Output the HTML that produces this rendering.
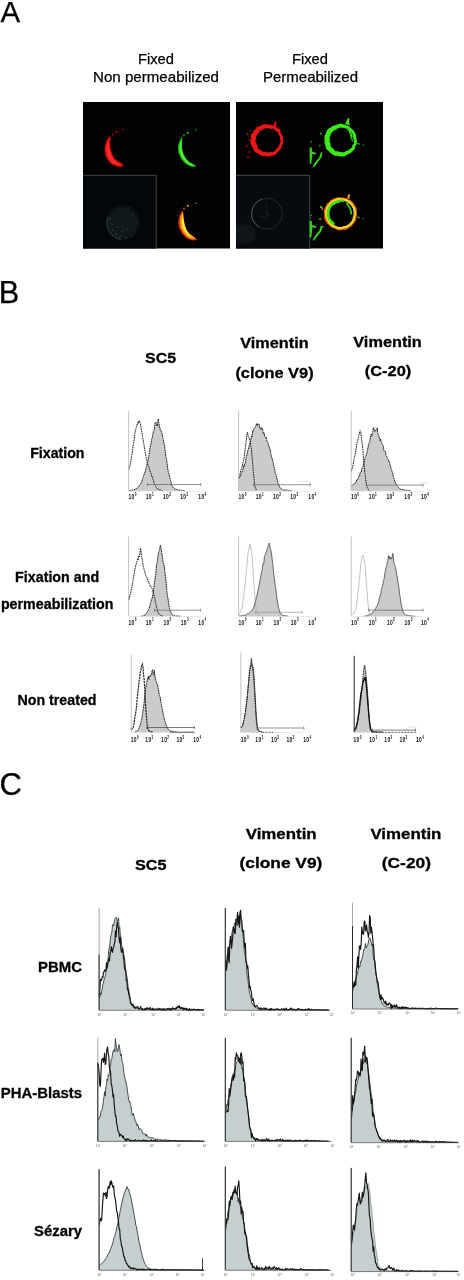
<!DOCTYPE html>
<html><head><meta charset="utf-8"><title>Figure</title>
<style>
html,body{margin:0;padding:0;background:#fff;}
body{width:464px;height:1280px;overflow:hidden;position:relative;font-family:"Liberation Sans",Arial,sans-serif;}
svg{position:absolute;left:0;top:0;display:block}
</style></head><body>
<svg width="464" height="1280" viewBox="0 0 464 1280">
<g font-family="Liberation Sans, Arial, sans-serif">
<text x="0.6" y="21.5" font-size="30" stroke="#000" stroke-width="0.25" textLength="19.6" lengthAdjust="spacingAndGlyphs">A</text>
<text x="-1.3" y="303.0" font-size="30.7" stroke="#000" stroke-width="0.25">B</text>
<text x="-0.5" y="794.5" font-size="31" stroke="#000" stroke-width="0.25">C</text>
<text x="138.0" y="64.2" font-size="15" stroke="#000" stroke-width="0.25" textLength="36.0" lengthAdjust="spacingAndGlyphs">Fixed</text>
<text x="93.0" y="82.2" font-size="15" stroke="#000" stroke-width="0.25" textLength="126.0" lengthAdjust="spacingAndGlyphs">Non permeabilized</text>
<text x="292.0" y="64.2" font-size="15" stroke="#000" stroke-width="0.25" textLength="36.0" lengthAdjust="spacingAndGlyphs">Fixed</text>
<text x="263.0" y="82.2" font-size="15" stroke="#000" stroke-width="0.25" textLength="95.0" lengthAdjust="spacingAndGlyphs">Permeabilized</text>
<text x="145.0" y="362.5" font-size="15.5" font-weight="bold" stroke="#000" stroke-width="0.3" textLength="31.0" lengthAdjust="spacingAndGlyphs">SC5</text>
<text x="240.3" y="348.0" font-size="15.5" font-weight="bold" stroke="#000" stroke-width="0.3" textLength="68.3" lengthAdjust="spacingAndGlyphs">Vimentin</text>
<text x="235.4" y="377.8" font-size="15.5" font-weight="bold" stroke="#000" stroke-width="0.3" textLength="78.2" lengthAdjust="spacingAndGlyphs">(clone V9)</text>
<text x="353.3" y="347.0" font-size="15.5" font-weight="bold" stroke="#000" stroke-width="0.3" textLength="68.5" lengthAdjust="spacingAndGlyphs">Vimentin</text>
<text x="364.7" y="375.8" font-size="15.5" font-weight="bold" stroke="#000" stroke-width="0.3" textLength="46.6" lengthAdjust="spacingAndGlyphs">(C-20)</text>
<text x="30.2" y="457.8" font-size="15" font-weight="bold" stroke="#000" stroke-width="0.3" textLength="54.3" lengthAdjust="spacingAndGlyphs">Fixation</text>
<text x="15.1" y="581.8" font-size="15" font-weight="bold" stroke="#000" stroke-width="0.3" textLength="84.0" lengthAdjust="spacingAndGlyphs">Fixation and</text>
<text x="0.9" y="608.6" font-size="15" font-weight="bold" stroke="#000" stroke-width="0.3" textLength="112.6" lengthAdjust="spacingAndGlyphs">permeabilization</text>
<text x="17.5" y="705.2" font-size="15" font-weight="bold" stroke="#000" stroke-width="0.3" textLength="79.0" lengthAdjust="spacingAndGlyphs">Non treated</text>
</g>
<defs><filter id="b1" x="-30%" y="-30%" width="160%" height="160%"><feGaussianBlur stdDeviation="0.7"/></filter><filter id="b2" x="-30%" y="-30%" width="160%" height="160%"><feGaussianBlur stdDeviation="1.6"/></filter><filter id="b0" x="-30%" y="-30%" width="160%" height="160%"><feGaussianBlur stdDeviation="0.45"/></filter><radialGradient id="cellg" cx="0.45" cy="0.5" r="0.5"><stop offset="0" stop-color="#131c20" stop-opacity="0.9"/><stop offset="0.75" stop-color="#121b1f" stop-opacity="0.8"/><stop offset="1" stop-color="#0a1013" stop-opacity="0"/></radialGradient><clipPath id="cpR"><rect x="236" y="176" width="73" height="72.5"/></clipPath></defs>
<rect x="83" y="102" width="147" height="146.5" fill="#020202"/>
<rect x="83" y="175" width="73" height="73.5" fill="#04070a"/>
<path d="M83 175.3H156.2V248.5" fill="none" stroke="#46514f" stroke-width="0.9"/>
<rect x="236" y="102" width="147" height="146.5" fill="#020202"/>
<rect x="236" y="175" width="74" height="73.5" fill="#070b0f"/>
<path d="M236 175.3H309.8V248.5" fill="none" stroke="#4c5656" stroke-width="0.9"/>
<g filter="url(#b1)"><polygon points="109.9,135.9 107.1,139.6 105.1,145.0 104.5,150.3 105.6,155.7 107.7,160.0 110.9,163.7 115.3,165.9 120.6,167.2 123.7,166.1 121.7,163.3 117.4,161.1 114.2,157.9 112.0,153.6 110.5,148.2 110.1,142.8 110.7,138.5" fill="#d60e0e"/><polygon points="108.8,140.0 106.6,145.6 106.2,150.8 107.3,155.7 109.7,160.0 113.1,163.3 117.8,165.0 120.9,165.0 117.0,162.4 113.1,159.0 110.9,154.2 109.2,148.2 108.8,142.8" fill="#ff2a2a"/><circle cx="122.8" cy="129.6" r="0.9" fill="#a01010"/><circle cx="116.5" cy="132" r="1.1" fill="#c01010"/><circle cx="113" cy="134.5" r="1" fill="#b01010"/></g>
<g filter="url(#b1)"><polygon points="182.3,135.9 179.7,140.6 178.0,146.0 178.4,152.5 181.2,159.0 185.6,163.7 190.9,166.7 196.6,166.7 193.5,164.1 189.2,162.0 185.8,158.1 183.2,153.4 181.9,147.1 182.1,141.7" fill="#1fb814"/><polygon points="181.2,140.0 179.3,146.0 179.7,152.1 182.3,158.1 186.2,162.8 191.4,165.4 194.2,165.4 189.7,162.8 185.8,159.4 183.2,154.2 181.5,147.8 181.5,142.6" fill="#4cf530"/><circle cx="195.7" cy="129.9" r="0.8" fill="#1a9a14"/><circle cx="187.8" cy="133" r="1.1" fill="#22c018"/><circle cx="184" cy="135.3" r="0.9" fill="#22c018"/></g>
<g filter="url(#b1)"><polygon points="182.3,210.2 179.7,215.0 178.2,221.4 178.9,227.2 181.7,233.3 186.4,238.2 192.0,240.6 197.2,240.0 194.4,237.2 190.1,234.6 186.9,230.3 184.7,224.7 183.6,218.2 183.6,213.0" fill="#d82c10"/><polygon points="182.5,211.7 180.6,216.5 179.7,222.1 180.6,227.2 183.2,232.8 187.5,237.2 192.2,239.3 195.7,238.9 193.1,236.3 189.2,233.7 186.2,229.8 184.3,224.7 183.2,218.6 183.2,213.9" fill="#ee9a18"/><polygon points="182.8,214.3 181.7,219.3 181.9,224.7 184.1,230.7 187.9,235.4 192.2,237.8 189.7,234.6 186.6,230.3 184.7,225.1 183.6,219.5" fill="#ffe838"/><circle cx="195.9" cy="203.2" r="0.8" fill="#b08018"/><circle cx="187.8" cy="205.8" r="1.1" fill="#d0901a"/><circle cx="184" cy="208.5" r="0.9" fill="#d06a18"/></g>
<circle cx="124.5" cy="222.5" r="19" fill="url(#cellg)"/>
<g filter="url(#b0)" fill="#2c3a3e"><circle cx="110" cy="219" r="0.9"/><circle cx="112" cy="224" r="1"/><circle cx="113" cy="230" r="0.9"/><circle cx="116" cy="234" r="1"/><circle cx="120" cy="237" r="0.9"/><circle cx="126" cy="238" r="1"/><circle cx="131" cy="236" r="0.8"/><circle cx="118" cy="227" r="0.8"/><circle cx="122" cy="231" r="0.8"/><circle cx="127" cy="229" r="0.7"/><circle cx="133" cy="215" r="0.7"/><circle cx="137" cy="222" r="0.7"/><circle cx="129" cy="208" r="0.7"/></g>
<path d="M108.1 216.5A17.5 17.5 0 0 0 121.5 239.7" stroke="#222e32" stroke-width="1.6" fill="none" filter="url(#b0)"/>
<g filter="url(#b0)"><path d="M283.1 140.3 L283.3 142.5 L282.6 144.5 L281.6 146.4 L281.0 148.5 L279.5 149.9 L278.1 151.5 L276.9 153.3 L275.2 154.7 L273.2 155.4 L271.0 155.7 L269.0 156.4 L266.9 156.2 L264.8 155.9 L262.7 155.9 L260.7 155.3 L258.8 154.3 L257.1 153.1 L255.1 152.1 L253.8 150.3 L253.0 148.3 L252.1 146.4 L251.0 144.6 L250.5 142.5 L250.3 140.3 L251.3 138.2 L250.9 136.0 L251.5 133.9 L253.2 132.4 L253.8 130.3 L255.7 129.1 L256.8 127.1 L259.0 126.6 L260.8 125.7 L262.6 124.4 L264.8 124.2 L266.9 124.4 L269.0 124.6 L271.0 125.0 L273.0 125.6 L275.2 125.9 L276.7 127.6 L278.2 129.0 L280.0 130.2 L280.6 132.4 L281.6 134.2 L282.8 136.0 L282.8 138.2Z M280.4 140.3 L280.6 142.1 L280.0 143.8 L279.0 145.3 L278.7 147.1 L277.0 148.1 L276.1 149.5 L274.8 150.6 L273.7 152.1 L271.9 152.3 L270.0 151.9 L268.5 152.4 L266.9 152.2 L265.4 151.9 L263.8 152.0 L262.3 151.3 L261.0 150.5 L260.0 149.4 L258.3 148.9 L257.6 147.5 L257.4 145.8 L257.0 144.4 L256.0 143.2 L255.6 141.8 L255.2 140.3 L256.5 138.9 L255.8 137.3 L256.2 135.9 L257.4 134.8 L257.8 133.3 L259.1 132.5 L259.5 130.7 L261.3 130.6 L262.6 129.9 L263.8 128.6 L265.3 128.2 L266.9 128.2 L268.5 128.2 L270.1 128.5 L271.6 128.9 L273.6 128.6 L274.9 129.9 L276.0 131.2 L277.7 132.0 L278.4 133.7 L278.9 135.3 L280.0 136.8 L279.9 138.6Z" fill="#f01616" fill-rule="evenodd"/><path d="M273.5 125.5l1.6-4.2 1.4 0.6-0.4 4.6zM277 126.5l3.6 3.4-1.2 1z" fill="#e81414"/></g>
<g filter="url(#b1)" fill="#b81010"><circle cx="247.5" cy="134" r="1"/><circle cx="249" cy="140" r="0.8"/><circle cx="246.5" cy="146" r="1"/><circle cx="249.5" cy="152" r="1"/><circle cx="248" cy="157" r="0.9"/><circle cx="251" cy="131" r="0.8"/><circle cx="245" cy="162" r="0.7" opacity="0.6"/><circle cx="240" cy="142" r="0.7" opacity="0.5"/><circle cx="243" cy="151" r="0.6" opacity="0.5"/></g>
<g filter="url(#b0)" fill="#3bea14"><path d="M356.9 140.2 L356.9 142.4 L356.5 144.5 L355.2 146.3 L355.0 148.5 L353.7 150.3 L352.0 151.7 L350.4 153.2 L348.4 153.9 L346.7 155.1 L344.8 156.2 L342.7 156.6 L340.5 156.6 L338.4 155.9 L336.3 155.7 L334.1 155.7 L332.4 154.2 L330.6 153.2 L329.2 151.5 L327.4 150.2 L326.1 148.5 L325.6 146.4 L325.1 144.3 L324.5 142.3 L324.6 140.2 L324.5 138.1 L324.5 135.9 L325.6 134.0 L326.2 132.0 L327.2 130.0 L328.8 128.5 L330.8 127.6 L332.4 126.2 L334.4 125.5 L336.4 124.7 L338.4 124.3 L340.5 123.5 L342.6 124.2 L344.7 124.4 L346.6 125.5 L348.8 125.9 L350.2 127.6 L351.8 128.9 L353.5 130.2 L354.5 132.1 L355.6 133.9 L356.1 136.0 L356.3 138.1Z M354.1 140.2 L354.2 142.0 L353.8 143.8 L352.3 145.1 L352.3 147.0 L351.0 148.2 L349.5 149.2 L348.3 150.4 L346.5 150.6 L345.3 151.8 L343.7 152.2 L342.1 152.3 L340.5 152.1 L339.0 151.7 L337.6 151.1 L335.8 151.5 L334.7 150.2 L333.5 149.3 L332.6 148.1 L331.3 147.2 L330.7 145.9 L330.6 144.3 L330.4 142.9 L329.7 141.6 L329.8 140.2 L329.8 138.8 L329.5 137.3 L330.3 136.0 L330.8 134.6 L331.3 133.2 L332.1 131.8 L333.6 131.2 L334.7 130.1 L336.2 129.8 L337.4 128.6 L338.9 128.2 L340.5 127.2 L342.1 128.0 L343.8 127.8 L345.3 128.6 L347.2 128.6 L348.3 130.0 L349.5 131.2 L351.3 131.9 L352.1 133.5 L352.8 135.1 L353.1 136.8 L353.2 138.5Z" fill-rule="evenodd"/><path d="M345 124l3-6 1.6 0.4-0.8 4.4 1.6 2.6z"/><path d="M347.5 126.5q4 4 5.2 10.5l-1.4 0.4q-2-6-5-9.600z" fill="#34d814"/><path d="M349 131l3 6.500 1.500 4-1 0.500-2-3.500z" fill="#30c812" opacity="0.8"/><path d="M357.400 143l2.400 0.800-0.300 0.900-2.400-0.700zM362.800 144.600h1.200v0.800h-1.200z"/></g>
<g filter="url(#b0)" fill="#34d414"><path d="M309.6 147.6h2.2l0.4 8.500-1 8h-1.400z" /><path d="M312 151.6l4.2 1.4-0.4 1.6-4-0.8z"/><path d="M322.6 152.6l-1.2 5-4 5.2-3.6 4.6-1.2-0.8 3-4.8 3.8-4.6 1.4-4.8z"/><circle cx="320.8" cy="133.6" r="0.9"/><circle cx="311.2" cy="141.8" r="0.7"/><circle cx="319.8" cy="145.6" r="0.8"/></g>
<g filter="url(#b0)"><path d="M356.8 213.6 L357.1 215.8 L356.3 217.8 L356.1 220.1 L354.9 221.9 L353.3 223.4 L352.3 225.4 L350.8 227.0 L348.7 227.8 L347.0 229.4 L344.9 230.0 L342.6 229.6 L340.5 230.2 L338.3 230.5 L336.3 229.3 L334.3 228.6 L332.2 227.9 L330.5 226.7 L329.0 225.1 L327.1 223.9 L325.9 222.0 L324.8 220.1 L324.2 218.0 L324.0 215.8 L324.2 213.6 L323.8 211.4 L324.1 209.2 L325.2 207.3 L326.2 205.3 L327.0 203.2 L329.1 202.2 L330.3 200.3 L332.2 199.2 L334.1 198.2 L336.3 197.8 L338.3 197.1 L340.5 197.3 L342.6 197.3 L344.8 197.7 L346.8 198.4 L348.6 199.6 L350.8 200.2 L352.4 201.7 L354.0 203.3 L354.8 205.3 L356.2 207.1 L356.9 209.2 L356.8 211.4Z M354.6 213.6 L354.8 215.5 L354.2 217.3 L353.9 219.2 L352.7 220.6 L351.4 221.9 L350.4 223.5 L349.2 224.9 L347.3 225.3 L346.1 227.1 L344.2 227.4 L342.2 226.8 L340.5 227.2 L338.7 227.6 L337.0 226.7 L335.3 226.1 L333.7 225.3 L332.4 224.2 L331.4 222.7 L329.7 221.9 L328.8 220.3 L327.6 218.9 L327.3 217.1 L327.1 215.4 L327.6 213.6 L327.2 211.8 L327.1 210.0 L328.3 208.6 L329.0 207.0 L329.6 205.2 L331.4 204.5 L332.0 202.5 L333.7 201.9 L335.2 200.9 L337.0 200.6 L338.7 199.9 L340.5 200.3 L342.3 199.8 L344.1 200.2 L345.7 201.0 L347.4 201.6 L349.2 202.3 L350.7 203.4 L352.2 204.6 L353.0 206.4 L354.1 208.0 L354.6 209.8 L354.4 211.8Z" fill="#e4481a" fill-rule="evenodd"/><path d="M356.4 213.6 L355.7 215.6 L355.4 217.6 L355.0 219.6 L354.2 221.5 L353.1 223.3 L351.6 224.7 L350.1 226.1 L348.4 227.2 L346.6 228.2 L344.5 228.6 L342.6 229.3 L340.5 229.5 L338.4 229.3 L336.4 228.8 L334.6 227.9 L332.8 227.0 L330.8 226.2 L329.6 224.5 L328.0 223.2 L327.2 221.3 L326.3 219.5 L325.4 217.6 L325.1 215.6 L324.7 213.6 L325.1 211.6 L325.5 209.6 L326.1 207.6 L326.9 205.7 L328.3 204.3 L329.5 202.6 L331.0 201.3 L332.6 199.9 L334.6 199.2 L336.4 198.3 L338.5 198.1 L340.5 198.1 L342.5 198.3 L344.5 198.5 L346.5 199.1 L348.4 200.0 L350.0 201.3 L351.7 202.4 L353.0 204.0 L354.0 205.8 L355.2 207.5 L355.6 209.6 L356.1 211.6Z M353.7 213.6 L353.4 215.3 L352.8 216.9 L352.6 218.6 L352.0 220.2 L351.1 221.7 L349.9 223.0 L348.6 224.2 L347.0 224.9 L345.6 225.9 L343.8 226.0 L342.2 226.8 L340.5 227.1 L338.8 226.9 L337.1 226.4 L335.5 225.7 L334.0 224.9 L332.3 224.3 L331.3 222.8 L330.1 221.6 L329.4 220.0 L328.5 218.6 L327.8 217.0 L327.5 215.3 L327.2 213.6 L327.6 211.9 L327.9 210.2 L328.4 208.6 L329.1 207.0 L330.2 205.7 L331.3 204.4 L332.5 203.1 L333.8 202.0 L335.6 201.7 L337.1 200.8 L338.8 200.6 L340.5 200.7 L342.2 201.0 L343.9 200.8 L345.5 201.5 L347.0 202.3 L348.5 203.2 L349.9 204.2 L351.1 205.5 L351.9 207.0 L353.0 208.4 L353.2 210.2 L353.5 211.9Z" fill="#f2d222" fill-rule="evenodd"/><path d="M338.8 201.4A12.3 12.3 0 0 0 333.4 223.7" stroke="#3ce014" stroke-width="2.8" fill="none" stroke-linecap="round"/><path d="M333 204.500q5-4.500 11-3.500" stroke="#3ce014" stroke-width="2" fill="none"/><path d="M346.500 203q4.500 5 5 11.500" stroke="#40d818" stroke-width="1.600" fill="none"/><path d="M347.200 198.500l1.200-4.600 1.600 0.400-0.600 4.800z" fill="#f0a020"/><path d="M321.500 206.500l1.200 3.500M320 218.500l0.800 1.200M322.500 226l0.800 1.400" stroke="#e06018" stroke-width="1.400" fill="none"/><path d="M357.400 216.500l2.400 0.800-0.300 0.900-2.400-0.700zM362.800 218.200h1.200v0.800h-1.200z" fill="#38d014"/></g>
<g filter="url(#b0)" fill="#34d414"><path d="M309.6 221.0h2.2l0.4 8.500-1 8h-1.400z" /><path d="M312 225.0l4.2 1.4-0.4 1.6-4-0.8z"/><path d="M322.6 226.0l-1.2 5-4 5.2-3.6 4.6-1.2-0.8 3-4.8 3.8-4.6 1.4-4.8z"/><circle cx="320.8" cy="207.0" r="0.9"/><circle cx="311.2" cy="215.2" r="0.7"/><circle cx="319.8" cy="219.0" r="0.8"/></g>
<g fill="none" filter="url(#b0)"><circle cx="267" cy="213.8" r="15.4" stroke="#242e32" stroke-width="0.9"/><path d="M261.7 199.3A15.4 15.4 0 0 0 259.3 227.1" stroke="#4a585d" stroke-width="0.9"/><path d="M262 210l8 6M266 204l2 12M258 216l10 2" stroke="#1a2428" stroke-width="0.8"/></g>
<g clip-path="url(#cpR)"><ellipse cx="244" cy="234" rx="12" ry="10" fill="#141d22" opacity="0.7" filter="url(#b2)"/></g>
<polygon points="129.1,490.9 129.1,490.7 129.6,490.6 130.2,490.5 130.7,490.4 131.3,490.2 131.8,490.0 132.4,490.0 132.9,490.1 133.5,489.9 134.0,489.8 134.6,489.6 135.1,489.5 135.7,489.0 136.2,488.3 136.8,488.4 137.3,487.9 137.9,487.5 138.4,486.5 139.0,486.1 139.5,485.7 140.1,484.7 140.6,483.9 141.2,482.7 141.7,481.7 142.3,479.5 142.8,478.3 143.4,476.7 143.9,474.5 144.5,474.2 145.0,471.9 145.6,470.6 146.1,467.6 146.7,465.3 147.2,463.4 147.8,461.3 148.3,459.1 148.9,455.5 149.4,451.7 150.0,447.9 150.5,445.3 151.1,444.1 151.6,439.5 152.2,437.8 152.7,435.6 153.3,431.4 153.8,430.8 154.4,429.9 154.9,423.4 155.5,421.9 156.0,422.7 156.6,423.5 157.1,426.2 157.7,423.1 158.2,419.0 158.8,422.9 159.3,425.8 159.9,428.0 160.4,430.1 161.0,430.6 161.5,432.5 162.1,433.3 162.6,437.4 163.2,438.5 163.7,442.0 164.3,444.6 164.8,448.2 165.4,451.9 165.9,457.2 166.5,458.6 167.0,462.9 167.6,467.7 168.1,471.1 168.7,473.3 169.2,474.8 169.8,477.0 170.3,480.3 170.9,481.8 171.4,483.6 172.0,485.8 172.5,486.6 173.1,487.2 173.6,488.0 174.2,488.6 174.7,489.0 175.3,489.0 175.8,489.2 176.4,489.4 176.9,489.3 177.5,490.0 178.0,490.1 178.6,490.2 179.1,489.9 179.7,490.2 180.2,490.4 180.8,490.2 181.3,490.4 181.9,490.5 182.4,490.4 183.0,490.7 183.5,490.7 184.1,490.7 184.6,490.7 184.7,490.7 184.7,490.9" fill="#cbcbcb" stroke="none"/>
<polyline points="129.1,490.7 129.6,490.6 130.2,490.5 130.7,490.4 131.3,490.2 131.8,490.0 132.4,490.0 132.9,490.1 133.5,489.9 134.0,489.8 134.6,489.6 135.1,489.5 135.7,489.0 136.2,488.3 136.8,488.4 137.3,487.9 137.9,487.5 138.4,486.5 139.0,486.1 139.5,485.7 140.1,484.7 140.6,483.9 141.2,482.7 141.7,481.7 142.3,479.5 142.8,478.3 143.4,476.7 143.9,474.5 144.5,474.2 145.0,471.9 145.6,470.6 146.1,467.6 146.7,465.3 147.2,463.4 147.8,461.3 148.3,459.1 148.9,455.5 149.4,451.7 150.0,447.9 150.5,445.3 151.1,444.1 151.6,439.5 152.2,437.8 152.7,435.6 153.3,431.4 153.8,430.8 154.4,429.9 154.9,423.4 155.5,421.9 156.0,422.7 156.6,423.5 157.1,426.2 157.7,423.1 158.2,419.0 158.8,422.9 159.3,425.8 159.9,428.0 160.4,430.1 161.0,430.6 161.5,432.5 162.1,433.3 162.6,437.4 163.2,438.5 163.7,442.0 164.3,444.6 164.8,448.2 165.4,451.9 165.9,457.2 166.5,458.6 167.0,462.9 167.6,467.7 168.1,471.1 168.7,473.3 169.2,474.8 169.8,477.0 170.3,480.3 170.9,481.8 171.4,483.6 172.0,485.8 172.5,486.6 173.1,487.2 173.6,488.0 174.2,488.6 174.7,489.0 175.3,489.0 175.8,489.2 176.4,489.4 176.9,489.3 177.5,490.0 178.0,490.1 178.6,490.2 179.1,489.9 179.7,490.2 180.2,490.4 180.8,490.2 181.3,490.4 181.9,490.5 182.4,490.4 183.0,490.7 183.5,490.7 184.1,490.7 184.6,490.7 184.7,490.7" fill="none" stroke="#222" stroke-width="1" stroke-dasharray="1.8 0.6"/>
<polyline points="128.8,469.4 129.4,467.8 129.9,465.6 130.5,464.2 131.0,460.2 131.6,456.5 132.1,453.7 132.7,449.1 133.2,444.6 133.8,442.2 134.3,438.9 134.9,433.3 135.4,429.6 136.0,428.6 136.5,426.4 137.1,424.0 137.6,424.6 138.2,421.5 138.7,423.1 139.3,420.7 139.8,421.8 140.4,423.8 140.9,427.3 141.5,430.6 142.0,433.4 142.6,436.5 143.1,439.8 143.7,443.5 144.2,446.1 144.8,449.8 145.3,453.3 145.9,456.1 146.4,458.9 147.0,460.9 147.5,464.0 148.1,465.1 148.6,466.3 149.2,467.9 149.7,469.8 150.3,472.0 150.8,472.9 151.4,474.9 151.9,477.3 152.5,477.0 153.0,479.3 153.6,481.5 154.1,483.1 154.7,484.5 155.2,485.3 155.8,486.6 156.3,487.5 156.9,488.0 157.4,489.0 158.0,489.1 158.5,489.4 159.1,489.7 159.6,489.8 160.2,490.0 160.7,489.8 161.3,490.2 161.8,490.5 162.4,490.5 162.9,490.7 163.1,490.7" fill="none" stroke="#222" stroke-width="1" stroke-dasharray="1.7 0.7"/>
<line x1="128.6" y1="410.8" x2="128.6" y2="490.9" stroke="#b4b4b4" stroke-width="0.8"/>
<line x1="128.6" y1="491.2" x2="201.5" y2="491.2" stroke="#d8d8d8" stroke-width="0.6"/>
<path d="M147.4 484.5H200.8M147.4 483.0v3.0M200.8 483.0v3.0" stroke="#666" stroke-width="0.7" fill="none"/>
<text transform="translate(128.5,499.4) scale(0.64,1)" font-size="7.8" fill="#111" font-weight="bold" letter-spacing="0.5" font-family="Liberation Sans, Arial, sans-serif">10<tspan dy="-3.3" font-size="4.8">0</tspan></text>
<text transform="translate(145.7,499.4) scale(0.64,1)" font-size="7.8" fill="#111" font-weight="bold" letter-spacing="0.5" font-family="Liberation Sans, Arial, sans-serif">10<tspan dy="-3.3" font-size="4.8">1</tspan></text>
<text transform="translate(163.0,499.4) scale(0.64,1)" font-size="7.8" fill="#111" font-weight="bold" letter-spacing="0.5" font-family="Liberation Sans, Arial, sans-serif">10<tspan dy="-3.3" font-size="4.8">2</tspan></text>
<text transform="translate(180.2,499.4) scale(0.64,1)" font-size="7.8" fill="#111" font-weight="bold" letter-spacing="0.5" font-family="Liberation Sans, Arial, sans-serif">10<tspan dy="-3.3" font-size="4.8">3</tspan></text>
<text transform="translate(198.3,499.4) scale(0.64,1)" font-size="7.8" fill="#111" font-weight="bold" letter-spacing="0.5" font-family="Liberation Sans, Arial, sans-serif">10<tspan dy="-3.3" font-size="4.8">4</tspan></text>
<polygon points="238.8,490.9 238.8,478.2 239.4,477.8 239.9,476.8 240.5,476.3 241.0,473.7 241.6,473.2 242.1,471.5 242.7,470.3 243.2,469.0 243.8,465.2 244.3,466.3 244.9,463.2 245.4,462.9 246.0,458.1 246.5,456.2 247.1,454.5 247.6,451.3 248.2,449.5 248.7,447.9 249.3,445.2 249.8,442.7 250.4,441.9 250.9,439.1 251.5,435.9 252.0,437.1 252.6,431.5 253.1,432.0 253.7,429.2 254.2,428.1 254.8,427.8 255.3,426.6 255.9,426.4 256.4,423.7 257.0,423.5 257.5,425.7 258.1,423.8 258.6,424.2 259.2,424.5 259.7,428.1 260.3,428.2 260.8,429.6 261.4,427.6 261.9,429.1 262.5,428.5 263.0,431.8 263.6,434.0 264.1,432.8 264.7,436.6 265.2,437.4 265.8,437.7 266.3,437.4 266.9,441.9 267.4,441.9 268.0,442.8 268.5,445.1 269.1,446.5 269.6,449.1 270.2,449.1 270.7,453.1 271.3,455.6 271.8,457.8 272.4,459.0 272.9,461.1 273.5,464.8 274.0,466.7 274.6,469.1 275.1,472.4 275.7,473.9 276.2,475.2 276.8,478.3 277.3,479.9 277.9,483.2 278.4,484.5 279.0,485.3 279.5,486.6 280.1,487.9 280.6,488.2 281.2,488.8 281.7,488.8 282.3,489.4 282.8,489.7 283.4,490.1 283.9,489.8 284.5,490.1 285.0,489.8 285.6,490.0 286.1,489.9 286.7,490.3 287.2,490.1 287.8,490.3 288.3,490.4 288.9,490.5 289.4,490.5 290.0,490.6 290.5,490.8 291.1,490.7 291.4,490.7 291.4,490.9" fill="#cbcbcb" stroke="none"/>
<polyline points="238.8,478.2 239.4,477.8 239.9,476.8 240.5,476.3 241.0,473.7 241.6,473.2 242.1,471.5 242.7,470.3 243.2,469.0 243.8,465.2 244.3,466.3 244.9,463.2 245.4,462.9 246.0,458.1 246.5,456.2 247.1,454.5 247.6,451.3 248.2,449.5 248.7,447.9 249.3,445.2 249.8,442.7 250.4,441.9 250.9,439.1 251.5,435.9 252.0,437.1 252.6,431.5 253.1,432.0 253.7,429.2 254.2,428.1 254.8,427.8 255.3,426.6 255.9,426.4 256.4,423.7 257.0,423.5 257.5,425.7 258.1,423.8 258.6,424.2 259.2,424.5 259.7,428.1 260.3,428.2 260.8,429.6 261.4,427.6 261.9,429.1 262.5,428.5 263.0,431.8 263.6,434.0 264.1,432.8 264.7,436.6 265.2,437.4 265.8,437.7 266.3,437.4 266.9,441.9 267.4,441.9 268.0,442.8 268.5,445.1 269.1,446.5 269.6,449.1 270.2,449.1 270.7,453.1 271.3,455.6 271.8,457.8 272.4,459.0 272.9,461.1 273.5,464.8 274.0,466.7 274.6,469.1 275.1,472.4 275.7,473.9 276.2,475.2 276.8,478.3 277.3,479.9 277.9,483.2 278.4,484.5 279.0,485.3 279.5,486.6 280.1,487.9 280.6,488.2 281.2,488.8 281.7,488.8 282.3,489.4 282.8,489.7 283.4,490.1 283.9,489.8 284.5,490.1 285.0,489.8 285.6,490.0 286.1,489.9 286.7,490.3 287.2,490.1 287.8,490.3 288.3,490.4 288.9,490.5 289.4,490.5 290.0,490.6 290.5,490.8 291.1,490.7 291.4,490.7" fill="none" stroke="#222" stroke-width="1" stroke-dasharray="1.8 0.6"/>
<polyline points="238.8,477.2 239.4,475.8 239.9,474.4 240.5,472.1 241.0,469.8 241.6,468.2 242.1,467.2 242.7,463.4 243.2,461.2 243.8,459.6 244.3,456.2 244.9,450.7 245.4,446.7 246.0,442.5 246.5,437.5 247.1,433.0 247.6,432.2 248.2,436.8 248.7,437.1 249.3,438.4 249.8,440.4 250.4,442.2 250.9,446.5 251.5,449.5 252.0,456.2 252.6,461.4 253.1,469.3 253.7,475.0 254.2,480.4 254.8,485.5 255.3,487.6 255.9,488.6 256.4,490.3 256.5,490.5" fill="none" stroke="#222" stroke-width="1" stroke-dasharray="1.7 0.7"/>
<line x1="238.6" y1="410.8" x2="238.6" y2="490.9" stroke="#b4b4b4" stroke-width="0.8"/>
<line x1="238.6" y1="491.2" x2="311.5" y2="491.2" stroke="#d8d8d8" stroke-width="0.6"/>
<path d="M253.3 484.7H310.2M253.3 483.2v3.0M310.2 483.2v3.0" stroke="#666" stroke-width="0.7" fill="none"/>
<path d="M301.1 481.5h0.8m1.6 0h0.8m1.6 -0.4h1.2m1.6 0.4h0.8" stroke="#999" stroke-width="0.6" fill="none"/>
<text transform="translate(238.5,499.4) scale(0.64,1)" font-size="7.8" fill="#111" font-weight="bold" letter-spacing="0.5" font-family="Liberation Sans, Arial, sans-serif">10<tspan dy="-3.3" font-size="4.8">0</tspan></text>
<text transform="translate(255.7,499.4) scale(0.64,1)" font-size="7.8" fill="#111" font-weight="bold" letter-spacing="0.5" font-family="Liberation Sans, Arial, sans-serif">10<tspan dy="-3.3" font-size="4.8">1</tspan></text>
<text transform="translate(273.0,499.4) scale(0.64,1)" font-size="7.8" fill="#111" font-weight="bold" letter-spacing="0.5" font-family="Liberation Sans, Arial, sans-serif">10<tspan dy="-3.3" font-size="4.8">2</tspan></text>
<text transform="translate(290.2,499.4) scale(0.64,1)" font-size="7.8" fill="#111" font-weight="bold" letter-spacing="0.5" font-family="Liberation Sans, Arial, sans-serif">10<tspan dy="-3.3" font-size="4.8">3</tspan></text>
<text transform="translate(308.3,499.4) scale(0.64,1)" font-size="7.8" fill="#111" font-weight="bold" letter-spacing="0.5" font-family="Liberation Sans, Arial, sans-serif">10<tspan dy="-3.3" font-size="4.8">4</tspan></text>
<polygon points="351.4,490.9 351.4,486.2 352.0,485.7 352.5,484.8 353.1,484.6 353.6,484.2 354.2,483.8 354.7,483.3 355.3,483.2 355.8,482.3 356.4,481.6 356.9,479.7 357.5,479.9 358.0,479.0 358.6,477.2 359.1,475.9 359.7,475.8 360.2,472.4 360.8,472.3 361.3,472.0 361.9,468.4 362.4,467.8 363.0,466.8 363.5,463.5 364.1,462.1 364.6,460.6 365.2,457.5 365.7,456.4 366.3,454.7 366.8,453.1 367.4,450.3 367.9,448.0 368.5,444.9 369.0,443.1 369.6,441.9 370.1,438.8 370.7,435.6 371.2,434.3 371.8,436.4 372.3,433.5 372.9,432.0 373.4,427.6 374.0,429.9 374.5,429.9 375.1,431.6 375.6,430.6 376.2,429.7 376.7,429.9 377.3,427.9 377.8,433.3 378.4,434.8 378.9,435.4 379.5,438.9 380.0,440.8 380.6,439.0 381.1,440.9 381.7,443.0 382.2,444.3 382.8,445.2 383.3,446.1 383.9,450.5 384.4,451.2 385.0,451.0 385.5,452.2 386.1,455.8 386.6,456.3 387.2,458.0 387.7,458.7 388.3,459.2 388.8,461.7 389.4,461.7 389.9,464.2 390.5,466.3 391.0,468.5 391.6,469.6 392.1,471.9 392.7,474.2 393.2,476.0 393.8,478.1 394.3,479.8 394.9,481.5 395.4,483.1 396.0,483.9 396.5,484.8 397.1,485.9 397.6,486.6 398.2,487.1 398.7,487.6 399.3,488.1 399.8,488.6 400.4,489.0 400.9,488.9 401.5,489.4 402.0,489.6 402.6,489.6 403.1,489.7 403.7,489.9 404.2,489.9 404.8,489.9 405.3,490.2 405.9,490.1 406.4,490.3 407.0,490.2 407.5,490.1 408.1,490.3 408.6,490.6 409.2,490.5 409.7,490.5 410.3,490.6 410.8,490.7 411.1,490.7 411.1,490.9" fill="#cbcbcb" stroke="none"/>
<polyline points="351.4,486.2 352.0,485.7 352.5,484.8 353.1,484.6 353.6,484.2 354.2,483.8 354.7,483.3 355.3,483.2 355.8,482.3 356.4,481.6 356.9,479.7 357.5,479.9 358.0,479.0 358.6,477.2 359.1,475.9 359.7,475.8 360.2,472.4 360.8,472.3 361.3,472.0 361.9,468.4 362.4,467.8 363.0,466.8 363.5,463.5 364.1,462.1 364.6,460.6 365.2,457.5 365.7,456.4 366.3,454.7 366.8,453.1 367.4,450.3 367.9,448.0 368.5,444.9 369.0,443.1 369.6,441.9 370.1,438.8 370.7,435.6 371.2,434.3 371.8,436.4 372.3,433.5 372.9,432.0 373.4,427.6 374.0,429.9 374.5,429.9 375.1,431.6 375.6,430.6 376.2,429.7 376.7,429.9 377.3,427.9 377.8,433.3 378.4,434.8 378.9,435.4 379.5,438.9 380.0,440.8 380.6,439.0 381.1,440.9 381.7,443.0 382.2,444.3 382.8,445.2 383.3,446.1 383.9,450.5 384.4,451.2 385.0,451.0 385.5,452.2 386.1,455.8 386.6,456.3 387.2,458.0 387.7,458.7 388.3,459.2 388.8,461.7 389.4,461.7 389.9,464.2 390.5,466.3 391.0,468.5 391.6,469.6 392.1,471.9 392.7,474.2 393.2,476.0 393.8,478.1 394.3,479.8 394.9,481.5 395.4,483.1 396.0,483.9 396.5,484.8 397.1,485.9 397.6,486.6 398.2,487.1 398.7,487.6 399.3,488.1 399.8,488.6 400.4,489.0 400.9,488.9 401.5,489.4 402.0,489.6 402.6,489.6 403.1,489.7 403.7,489.9 404.2,489.9 404.8,489.9 405.3,490.2 405.9,490.1 406.4,490.3 407.0,490.2 407.5,490.1 408.1,490.3 408.6,490.6 409.2,490.5 409.7,490.5 410.3,490.6 410.8,490.7 411.1,490.7" fill="none" stroke="#222" stroke-width="1" stroke-dasharray="1.8 0.6"/>
<polyline points="351.4,471.1 352.0,469.0 352.5,466.5 353.1,464.9 353.6,461.7 354.2,458.4 354.7,456.1 355.3,453.7 355.8,450.1 356.4,447.3 356.9,443.3 357.5,441.7 358.0,439.8 358.6,436.2 359.1,434.7 359.7,431.5 360.2,430.6 360.8,431.6 361.3,437.9 361.9,441.1 362.4,445.2 363.0,450.9 363.5,459.1 364.1,463.7 364.6,470.0 365.2,475.5 365.7,479.5 366.3,483.5 366.8,485.9 367.4,487.7 367.9,489.0 368.5,489.7 369.0,490.4 369.1,490.5" fill="none" stroke="#222" stroke-width="1" stroke-dasharray="1.7 0.7"/>
<line x1="351.2" y1="410.8" x2="351.2" y2="490.9" stroke="#b4b4b4" stroke-width="0.8"/>
<line x1="351.2" y1="491.2" x2="424.1" y2="491.2" stroke="#d8d8d8" stroke-width="0.6"/>
<path d="M366.3 485.1H423.0M366.3 483.6v3.0M423.0 483.6v3.0" stroke="#666" stroke-width="0.7" fill="none"/>
<path d="M418.7 483.0h0.8m1.6 0h0.8m1.6 -0.4h1.2m1.6 0.4h0.8" stroke="#999" stroke-width="0.6" fill="none"/>
<text transform="translate(351.1,499.4) scale(0.64,1)" font-size="7.8" fill="#111" font-weight="bold" letter-spacing="0.5" font-family="Liberation Sans, Arial, sans-serif">10<tspan dy="-3.3" font-size="4.8">0</tspan></text>
<text transform="translate(368.8,499.4) scale(0.64,1)" font-size="7.8" fill="#111" font-weight="bold" letter-spacing="0.5" font-family="Liberation Sans, Arial, sans-serif">10<tspan dy="-3.3" font-size="4.8">1</tspan></text>
<text transform="translate(386.4,499.4) scale(0.64,1)" font-size="7.8" fill="#111" font-weight="bold" letter-spacing="0.5" font-family="Liberation Sans, Arial, sans-serif">10<tspan dy="-3.3" font-size="4.8">2</tspan></text>
<text transform="translate(404.3,499.4) scale(0.64,1)" font-size="7.8" fill="#111" font-weight="bold" letter-spacing="0.5" font-family="Liberation Sans, Arial, sans-serif">10<tspan dy="-3.3" font-size="4.8">3</tspan></text>
<text transform="translate(420.9,499.4) scale(0.64,1)" font-size="7.8" fill="#111" font-weight="bold" letter-spacing="0.5" font-family="Liberation Sans, Arial, sans-serif">10<tspan dy="-3.3" font-size="4.8">4</tspan></text>
<polygon points="141.6,616.2 141.6,616.2 142.1,616.1 142.7,615.9 143.2,615.7 143.8,615.5 144.3,615.3 144.9,615.2 145.4,614.3 146.0,613.8 146.5,613.4 147.1,612.4 147.6,611.5 148.2,609.9 148.7,609.2 149.3,608.3 149.8,606.4 150.4,604.2 150.9,602.2 151.5,599.5 152.0,598.9 152.6,595.9 153.1,593.2 153.7,588.5 154.2,585.5 154.8,580.1 155.3,577.4 155.9,572.7 156.4,565.7 157.0,563.4 157.5,560.2 158.1,554.8 158.6,552.3 159.2,550.7 159.7,548.6 160.3,545.2 160.8,547.1 161.4,550.5 161.9,554.1 162.5,557.4 163.0,561.4 163.6,564.2 164.1,565.0 164.7,570.2 165.2,574.5 165.8,579.3 166.3,585.6 166.9,591.2 167.4,595.8 168.0,598.6 168.5,602.7 169.1,606.1 169.6,608.8 170.2,611.0 170.7,612.3 171.3,613.3 171.8,614.6 172.4,614.8 172.9,615.0 173.5,615.2 174.0,615.5 174.6,615.6 175.1,615.9 175.7,616.0 176.2,616.0 176.8,616.1 177.3,616.1 177.9,616.0 178.4,616.1 179.0,616.1 179.5,616.2 180.1,616.2 180.3,616.2 180.3,616.2" fill="#cbcbcb" stroke="none"/>
<polyline points="141.6,616.2 142.1,616.1 142.7,615.9 143.2,615.7 143.8,615.5 144.3,615.3 144.9,615.2 145.4,614.3 146.0,613.8 146.5,613.4 147.1,612.4 147.6,611.5 148.2,609.9 148.7,609.2 149.3,608.3 149.8,606.4 150.4,604.2 150.9,602.2 151.5,599.5 152.0,598.9 152.6,595.9 153.1,593.2 153.7,588.5 154.2,585.5 154.8,580.1 155.3,577.4 155.9,572.7 156.4,565.7 157.0,563.4 157.5,560.2 158.1,554.8 158.6,552.3 159.2,550.7 159.7,548.6 160.3,545.2 160.8,547.1 161.4,550.5 161.9,554.1 162.5,557.4 163.0,561.4 163.6,564.2 164.1,565.0 164.7,570.2 165.2,574.5 165.8,579.3 166.3,585.6 166.9,591.2 167.4,595.8 168.0,598.6 168.5,602.7 169.1,606.1 169.6,608.8 170.2,611.0 170.7,612.3 171.3,613.3 171.8,614.6 172.4,614.8 172.9,615.0 173.5,615.2 174.0,615.5 174.6,615.6 175.1,615.9 175.7,616.0 176.2,616.0 176.8,616.1 177.3,616.1 177.9,616.0 178.4,616.1 179.0,616.1 179.5,616.2 180.1,616.2 180.3,616.2" fill="none" stroke="#222" stroke-width="1" stroke-dasharray="1.8 0.6"/>
<polyline points="128.8,600.0 129.4,597.9 129.9,595.3 130.5,593.5 131.0,591.2 131.6,588.9 132.1,585.9 132.7,582.3 133.2,578.7 133.8,576.2 134.3,572.8 134.9,569.3 135.4,567.0 136.0,564.5 136.5,562.9 137.1,561.2 137.6,558.7 138.2,559.8 138.7,556.2 139.3,557.0 139.8,555.4 140.4,548.2 140.9,549.5 141.5,555.6 142.0,558.1 142.6,561.7 143.1,566.1 143.7,567.0 144.2,570.2 144.8,571.8 145.3,574.0 145.9,575.7 146.4,576.6 147.0,578.4 147.5,578.7 148.1,581.6 148.6,581.2 149.2,583.2 149.7,585.5 150.3,585.0 150.8,586.2 151.4,588.0 151.9,588.3 152.5,589.4 153.0,591.6 153.6,593.6 154.1,596.0 154.7,597.6 155.2,601.4 155.8,604.0 156.3,606.0 156.9,608.4 157.4,610.6 158.0,612.6 158.5,613.0 159.1,614.1 159.6,614.7 160.2,615.2 160.7,615.5 161.3,615.7 161.8,615.8 162.4,615.9 162.9,616.2 163.1,616.2" fill="none" stroke="#222" stroke-width="1" stroke-dasharray="1.7 0.7"/>
<line x1="128.6" y1="536.5" x2="128.6" y2="616.2" stroke="#b4b4b4" stroke-width="0.8"/>
<line x1="128.6" y1="616.5" x2="201.5" y2="616.5" stroke="#d8d8d8" stroke-width="0.6"/>
<path d="M154.5 610.2H200.4M154.5 608.7v3.0M200.4 608.7v3.0" stroke="#666" stroke-width="0.7" fill="none"/>
<text transform="translate(128.5,624.7) scale(0.64,1)" font-size="7.8" fill="#111" font-weight="bold" letter-spacing="0.5" font-family="Liberation Sans, Arial, sans-serif">10<tspan dy="-3.3" font-size="4.8">0</tspan></text>
<text transform="translate(145.7,624.7) scale(0.64,1)" font-size="7.8" fill="#111" font-weight="bold" letter-spacing="0.5" font-family="Liberation Sans, Arial, sans-serif">10<tspan dy="-3.3" font-size="4.8">1</tspan></text>
<text transform="translate(163.4,624.7) scale(0.64,1)" font-size="7.8" fill="#111" font-weight="bold" letter-spacing="0.5" font-family="Liberation Sans, Arial, sans-serif">10<tspan dy="-3.3" font-size="4.8">2</tspan></text>
<text transform="translate(180.7,624.7) scale(0.64,1)" font-size="7.8" fill="#111" font-weight="bold" letter-spacing="0.5" font-family="Liberation Sans, Arial, sans-serif">10<tspan dy="-3.3" font-size="4.8">3</tspan></text>
<text transform="translate(198.3,624.7) scale(0.64,1)" font-size="7.8" fill="#111" font-weight="bold" letter-spacing="0.5" font-family="Liberation Sans, Arial, sans-serif">10<tspan dy="-3.3" font-size="4.8">4</tspan></text>
<polygon points="239.1,616.2 239.1,616.0 239.6,615.9 240.2,615.9 240.7,615.9 241.3,615.8 241.8,615.5 242.4,615.8 242.9,615.4 243.5,615.5 244.0,615.2 244.6,615.2 245.1,614.9 245.7,615.1 246.2,614.8 246.8,614.1 247.3,613.7 247.9,613.4 248.4,613.7 249.0,613.1 249.5,612.9 250.1,612.2 250.6,611.7 251.2,610.9 251.7,610.7 252.3,609.7 252.8,609.3 253.4,608.1 253.9,606.8 254.5,605.1 255.0,602.9 255.6,601.0 256.1,598.2 256.7,596.9 257.2,594.1 257.8,591.3 258.3,588.9 258.9,586.5 259.4,583.5 260.0,580.6 260.5,577.8 261.1,574.7 261.6,571.8 262.2,570.5 262.7,565.2 263.3,563.1 263.8,563.5 264.4,556.7 264.9,555.8 265.5,554.3 266.0,552.5 266.6,551.2 267.1,548.8 267.7,547.8 268.2,545.5 268.8,544.4 269.3,543.0 269.9,546.1 270.4,549.0 271.0,550.8 271.5,553.9 272.1,558.9 272.6,562.4 273.2,568.5 273.7,573.3 274.3,577.7 274.8,582.5 275.4,586.7 275.9,589.9 276.5,595.0 277.0,599.3 277.6,602.0 278.1,605.3 278.7,608.4 279.2,609.8 279.8,612.3 280.3,613.7 280.9,613.6 281.4,614.2 282.0,614.6 282.5,615.3 283.1,615.4 283.6,615.6 284.2,615.5 284.7,615.6 285.3,615.7 285.8,615.7 286.4,616.0 286.9,616.1 287.5,616.0 288.0,616.2 288.2,616.2 288.2,616.2" fill="#cbcbcb" stroke="none"/>
<polyline points="239.1,616.0 239.6,615.9 240.2,615.9 240.7,615.9 241.3,615.8 241.8,615.5 242.4,615.8 242.9,615.4 243.5,615.5 244.0,615.2 244.6,615.2 245.1,614.9 245.7,615.1 246.2,614.8 246.8,614.1 247.3,613.7 247.9,613.4 248.4,613.7 249.0,613.1 249.5,612.9 250.1,612.2 250.6,611.7 251.2,610.9 251.7,610.7 252.3,609.7 252.8,609.3 253.4,608.1 253.9,606.8 254.5,605.1 255.0,602.9 255.6,601.0 256.1,598.2 256.7,596.9 257.2,594.1 257.8,591.3 258.3,588.9 258.9,586.5 259.4,583.5 260.0,580.6 260.5,577.8 261.1,574.7 261.6,571.8 262.2,570.5 262.7,565.2 263.3,563.1 263.8,563.5 264.4,556.7 264.9,555.8 265.5,554.3 266.0,552.5 266.6,551.2 267.1,548.8 267.7,547.8 268.2,545.5 268.8,544.4 269.3,543.0 269.9,546.1 270.4,549.0 271.0,550.8 271.5,553.9 272.1,558.9 272.6,562.4 273.2,568.5 273.7,573.3 274.3,577.7 274.8,582.5 275.4,586.7 275.9,589.9 276.5,595.0 277.0,599.3 277.6,602.0 278.1,605.3 278.7,608.4 279.2,609.8 279.8,612.3 280.3,613.7 280.9,613.6 281.4,614.2 282.0,614.6 282.5,615.3 283.1,615.4 283.6,615.6 284.2,615.5 284.7,615.6 285.3,615.7 285.8,615.7 286.4,616.0 286.9,616.1 287.5,616.0 288.0,616.2 288.2,616.2" fill="none" stroke="#444" stroke-width="0.8"/>
<polyline points="238.8,614.1 239.4,613.4 239.9,612.9 240.5,612.3 241.0,610.5 241.6,608.8 242.1,607.3 242.7,603.9 243.2,599.7 243.8,595.5 244.3,590.6 244.9,586.1 245.4,581.6 246.0,574.4 246.5,567.9 247.1,564.1 247.6,556.9 248.2,552.0 248.7,550.3 249.3,548.0 249.8,544.1 250.4,545.3 250.9,548.1 251.5,551.8 252.0,555.3 252.6,563.3 253.1,570.7 253.7,580.0 254.2,588.4 254.8,595.5 255.3,602.0 255.9,606.9 256.4,610.7 257.0,611.9 257.5,613.5 258.1,614.4 258.6,614.9 259.2,615.4 259.7,615.8 260.2,616.0" fill="none" stroke="#999" stroke-width="0.6"/>
<line x1="238.6" y1="536.5" x2="238.6" y2="616.2" stroke="#b4b4b4" stroke-width="0.8"/>
<line x1="238.6" y1="616.5" x2="311.5" y2="616.5" stroke="#d8d8d8" stroke-width="0.6"/>
<path d="M255.4 612.3H302.2M255.4 610.8v3.0M302.2 610.8v3.0" stroke="#999" stroke-width="0.7" fill="none"/>
<text transform="translate(238.5,624.7) scale(0.64,1)" font-size="7.8" fill="#111" font-weight="bold" letter-spacing="0.5" font-family="Liberation Sans, Arial, sans-serif">10<tspan dy="-3.3" font-size="4.8">0</tspan></text>
<text transform="translate(255.7,624.7) scale(0.64,1)" font-size="7.8" fill="#111" font-weight="bold" letter-spacing="0.5" font-family="Liberation Sans, Arial, sans-serif">10<tspan dy="-3.3" font-size="4.8">1</tspan></text>
<text transform="translate(273.4,624.7) scale(0.64,1)" font-size="7.8" fill="#111" font-weight="bold" letter-spacing="0.5" font-family="Liberation Sans, Arial, sans-serif">10<tspan dy="-3.3" font-size="4.8">2</tspan></text>
<text transform="translate(290.7,624.7) scale(0.64,1)" font-size="7.8" fill="#111" font-weight="bold" letter-spacing="0.5" font-family="Liberation Sans, Arial, sans-serif">10<tspan dy="-3.3" font-size="4.8">3</tspan></text>
<text transform="translate(308.3,624.7) scale(0.64,1)" font-size="7.8" fill="#111" font-weight="bold" letter-spacing="0.5" font-family="Liberation Sans, Arial, sans-serif">10<tspan dy="-3.3" font-size="4.8">4</tspan></text>
<polygon points="363.7,616.2 363.7,616.2 364.3,616.1 364.8,616.0 365.4,616.0 365.9,615.8 366.5,615.8 367.0,615.6 367.6,615.7 368.1,615.4 368.7,614.9 369.2,614.9 369.8,614.6 370.3,614.1 370.9,614.0 371.4,613.5 372.0,613.1 372.5,612.9 373.1,611.6 373.6,611.1 374.2,610.5 374.7,610.1 375.3,609.0 375.8,608.3 376.4,606.8 376.9,606.1 377.5,605.6 378.0,603.0 378.6,602.6 379.1,599.1 379.7,597.6 380.2,595.6 380.8,593.9 381.3,590.2 381.9,587.4 382.4,586.5 383.0,583.7 383.5,580.5 384.1,579.2 384.6,574.4 385.2,571.7 385.7,569.6 386.3,566.3 386.8,565.7 387.4,561.3 387.9,560.5 388.5,555.8 389.0,558.8 389.6,556.4 390.1,557.0 390.7,559.3 391.2,558.1 391.8,558.7 392.3,555.7 392.9,553.3 393.4,557.9 394.0,563.2 394.5,564.3 395.1,566.1 395.6,567.6 396.2,571.7 396.7,574.4 397.3,577.2 397.8,581.3 398.4,584.2 398.9,587.4 399.5,593.2 400.0,596.7 400.6,599.7 401.1,603.8 401.7,606.5 402.2,608.5 402.8,611.1 403.3,612.3 403.9,613.5 404.4,613.8 405.0,614.3 405.5,614.7 406.1,615.3 406.6,615.3 407.2,615.3 407.7,615.5 408.3,615.5 408.8,615.7 409.4,615.7 409.9,615.8 410.5,615.7 411.0,615.9 411.6,616.1 412.1,616.1 412.7,616.1 413.2,616.1 413.8,616.2 414.3,616.1 414.9,616.2 415.4,616.2 415.4,616.2 415.4,616.2" fill="#cbcbcb" stroke="none"/>
<polyline points="363.7,616.2 364.3,616.1 364.8,616.0 365.4,616.0 365.9,615.8 366.5,615.8 367.0,615.6 367.6,615.7 368.1,615.4 368.7,614.9 369.2,614.9 369.8,614.6 370.3,614.1 370.9,614.0 371.4,613.5 372.0,613.1 372.5,612.9 373.1,611.6 373.6,611.1 374.2,610.5 374.7,610.1 375.3,609.0 375.8,608.3 376.4,606.8 376.9,606.1 377.5,605.6 378.0,603.0 378.6,602.6 379.1,599.1 379.7,597.6 380.2,595.6 380.8,593.9 381.3,590.2 381.9,587.4 382.4,586.5 383.0,583.7 383.5,580.5 384.1,579.2 384.6,574.4 385.2,571.7 385.7,569.6 386.3,566.3 386.8,565.7 387.4,561.3 387.9,560.5 388.5,555.8 389.0,558.8 389.6,556.4 390.1,557.0 390.7,559.3 391.2,558.1 391.8,558.7 392.3,555.7 392.9,553.3 393.4,557.9 394.0,563.2 394.5,564.3 395.1,566.1 395.6,567.6 396.2,571.7 396.7,574.4 397.3,577.2 397.8,581.3 398.4,584.2 398.9,587.4 399.5,593.2 400.0,596.7 400.6,599.7 401.1,603.8 401.7,606.5 402.2,608.5 402.8,611.1 403.3,612.3 403.9,613.5 404.4,613.8 405.0,614.3 405.5,614.7 406.1,615.3 406.6,615.3 407.2,615.3 407.7,615.5 408.3,615.5 408.8,615.7 409.4,615.7 409.9,615.8 410.5,615.7 411.0,615.9 411.6,616.1 412.1,616.1 412.7,616.1 413.2,616.1 413.8,616.2 414.3,616.1 414.9,616.2 415.4,616.2 415.4,616.2" fill="none" stroke="#444" stroke-width="0.8"/>
<polyline points="351.4,615.1 352.0,614.7 352.5,614.4 353.1,613.6 353.6,613.3 354.2,612.5 354.7,611.2 355.3,610.2 355.8,609.2 356.4,605.8 356.9,601.9 357.5,598.5 358.0,592.7 358.6,588.1 359.1,582.7 359.7,576.6 360.2,571.7 360.8,564.8 361.3,561.8 361.9,556.9 362.4,556.3 363.0,555.1 363.5,556.4 364.1,559.1 364.6,561.6 365.2,566.1 365.7,573.3 366.3,581.7 366.8,588.3 367.4,596.2 367.9,602.9 368.5,607.9 369.0,610.5 369.6,613.2 370.1,614.7 370.7,614.6 371.2,615.2 371.8,615.6 372.3,616.0 372.3,616.0" fill="none" stroke="#999" stroke-width="0.6"/>
<line x1="351.2" y1="536.5" x2="351.2" y2="616.2" stroke="#b4b4b4" stroke-width="0.8"/>
<line x1="351.2" y1="616.5" x2="424.1" y2="616.5" stroke="#d8d8d8" stroke-width="0.6"/>
<path d="M368.7 610.2H423.0M368.7 608.7v3.0M423.0 608.7v3.0" stroke="#666" stroke-width="0.7" fill="none"/>
<text transform="translate(351.1,624.7) scale(0.64,1)" font-size="7.8" fill="#111" font-weight="bold" letter-spacing="0.5" font-family="Liberation Sans, Arial, sans-serif">10<tspan dy="-3.3" font-size="4.8">0</tspan></text>
<text transform="translate(368.8,624.7) scale(0.64,1)" font-size="7.8" fill="#111" font-weight="bold" letter-spacing="0.5" font-family="Liberation Sans, Arial, sans-serif">10<tspan dy="-3.3" font-size="4.8">1</tspan></text>
<text transform="translate(386.9,624.7) scale(0.64,1)" font-size="7.8" fill="#111" font-weight="bold" letter-spacing="0.5" font-family="Liberation Sans, Arial, sans-serif">10<tspan dy="-3.3" font-size="4.8">2</tspan></text>
<text transform="translate(404.5,624.7) scale(0.64,1)" font-size="7.8" fill="#111" font-weight="bold" letter-spacing="0.5" font-family="Liberation Sans, Arial, sans-serif">10<tspan dy="-3.3" font-size="4.8">3</tspan></text>
<text transform="translate(420.9,624.7) scale(0.64,1)" font-size="7.8" fill="#111" font-weight="bold" letter-spacing="0.5" font-family="Liberation Sans, Arial, sans-serif">10<tspan dy="-3.3" font-size="4.8">4</tspan></text>
<polygon points="135.1,732.3 135.1,732.1 135.6,731.8 136.2,731.4 136.7,730.9 137.3,730.8 137.8,730.6 138.4,729.7 138.9,728.3 139.5,727.2 140.0,725.2 140.6,724.2 141.1,721.7 141.7,719.8 142.2,716.2 142.8,712.4 143.3,708.9 143.9,704.5 144.4,699.5 145.0,694.7 145.5,689.9 146.1,685.9 146.6,683.7 147.2,679.4 147.7,679.0 148.3,676.1 148.8,679.6 149.4,676.3 149.9,676.5 150.5,676.5 151.0,674.0 151.6,674.0 152.1,670.7 152.7,669.7 153.2,674.6 153.8,675.2 154.3,670.5 154.9,675.6 155.4,678.8 156.0,681.0 156.5,682.3 157.1,684.5 157.6,684.5 158.2,688.7 158.7,691.1 159.3,695.4 159.8,696.2 160.4,698.8 160.9,702.3 161.5,704.7 162.0,707.7 162.6,710.6 163.1,713.3 163.7,716.3 164.2,718.9 164.8,720.6 165.3,722.6 165.9,724.1 166.4,726.0 167.0,726.8 167.5,728.0 168.1,729.1 168.6,729.6 169.2,730.2 169.7,730.7 170.3,730.9 170.8,731.2 171.4,731.3 171.9,731.2 172.5,731.6 173.0,731.7 173.6,731.7 174.1,731.9 174.7,731.9 175.2,731.9 175.8,732.0 176.3,732.1 176.9,732.0 177.4,732.1 178.0,732.1 178.5,732.3 179.1,732.2 179.6,732.3 180.2,732.3 180.7,732.3 181.3,732.3 181.8,732.3 182.4,732.3 182.9,732.3 183.5,732.3 184.0,732.3 184.6,732.3 185.1,732.3 185.7,732.3 186.2,732.3 186.8,732.3 187.3,732.3 187.9,732.3 188.4,732.3 189.0,732.3 189.5,732.3 190.1,732.3 190.6,732.3 191.2,732.3 191.7,732.3 192.3,732.3 192.8,732.3 193.4,732.3 193.9,732.3 194.4,732.3 194.4,732.3" fill="#cbcbcb" stroke="none"/>
<polyline points="135.1,732.1 135.6,731.8 136.2,731.4 136.7,730.9 137.3,730.8 137.8,730.6 138.4,729.7 138.9,728.3 139.5,727.2 140.0,725.2 140.6,724.2 141.1,721.7 141.7,719.8 142.2,716.2 142.8,712.4 143.3,708.9 143.9,704.5 144.4,699.5 145.0,694.7 145.5,689.9 146.1,685.9 146.6,683.7 147.2,679.4 147.7,679.0 148.3,676.1 148.8,679.6 149.4,676.3 149.9,676.5 150.5,676.5 151.0,674.0 151.6,674.0 152.1,670.7 152.7,669.7 153.2,674.6 153.8,675.2 154.3,670.5 154.9,675.6 155.4,678.8 156.0,681.0 156.5,682.3 157.1,684.5 157.6,684.5 158.2,688.7 158.7,691.1 159.3,695.4 159.8,696.2 160.4,698.8 160.9,702.3 161.5,704.7 162.0,707.7 162.6,710.6 163.1,713.3 163.7,716.3 164.2,718.9 164.8,720.6 165.3,722.6 165.9,724.1 166.4,726.0 167.0,726.8 167.5,728.0 168.1,729.1 168.6,729.6 169.2,730.2 169.7,730.7 170.3,730.9 170.8,731.2 171.4,731.3 171.9,731.2 172.5,731.6 173.0,731.7 173.6,731.7 174.1,731.9 174.7,731.9 175.2,731.9 175.8,732.0 176.3,732.1 176.9,732.0 177.4,732.1 178.0,732.1 178.5,732.3 179.1,732.2 179.6,732.3 180.2,732.3 180.7,732.3 181.3,732.3 181.8,732.3 182.4,732.3 182.9,732.3 183.5,732.3 184.0,732.3 184.6,732.3 185.1,732.3 185.7,732.3 186.2,732.3 186.8,732.3 187.3,732.3 187.9,732.3 188.4,732.3 189.0,732.3 189.5,732.3 190.1,732.3 190.6,732.3 191.2,732.3 191.7,732.3 192.3,732.3 192.8,732.3 193.4,732.3 193.9,732.3 194.4,732.3" fill="none" stroke="#222" stroke-width="1" stroke-dasharray="1.8 0.6"/>
<polyline points="131.4,730.1 132.0,728.9 132.5,728.5 133.1,727.6 133.6,725.4 134.2,722.9 134.7,718.0 135.3,715.6 135.8,711.7 136.4,708.4 136.9,701.4 137.5,696.3 138.0,691.1 138.6,686.7 139.1,680.8 139.7,677.5 140.2,672.5 140.8,670.7 141.3,667.2 141.9,665.1 142.4,664.2 143.0,667.2 143.5,674.3 144.1,679.1 144.6,686.6 145.2,697.7 145.7,707.8 146.3,714.3 146.8,721.2 147.4,726.3 147.9,728.8 148.5,729.8 149.0,730.8 149.6,731.5 150.1,731.5 150.7,731.6 151.2,731.8 151.8,731.9 152.3,732.0 152.3,732.1" fill="none" stroke="#222" stroke-width="1.2" stroke-dasharray="2.2 0.7"/>
<line x1="131.2" y1="654.7" x2="131.2" y2="732.3" stroke="#b4b4b4" stroke-width="0.8"/>
<line x1="131.2" y1="732.6" x2="195.0" y2="732.6" stroke="#d8d8d8" stroke-width="0.6"/>
<line x1="169.6" y1="732.3" x2="194.4" y2="732.3" stroke="#555" stroke-width="0.7"/>
<path d="M146.9 727.5H194.4M146.9 726.0v3.0M194.4 726.0v3.0" stroke="#444" stroke-width="0.7" fill="none"/>
<text transform="translate(130.7,741.8) scale(0.64,1)" font-size="7.8" fill="#111" font-weight="bold" letter-spacing="0.5" font-family="Liberation Sans, Arial, sans-serif">10<tspan dy="-3.3" font-size="4.8">0</tspan></text>
<text transform="translate(145.3,741.8) scale(0.64,1)" font-size="7.8" fill="#111" font-weight="bold" letter-spacing="0.5" font-family="Liberation Sans, Arial, sans-serif">10<tspan dy="-3.3" font-size="4.8">1</tspan></text>
<text transform="translate(161.1,741.8) scale(0.64,1)" font-size="7.8" fill="#111" font-weight="bold" letter-spacing="0.5" font-family="Liberation Sans, Arial, sans-serif">10<tspan dy="-3.3" font-size="4.8">2</tspan></text>
<text transform="translate(176.4,741.8) scale(0.64,1)" font-size="7.8" fill="#111" font-weight="bold" letter-spacing="0.5" font-family="Liberation Sans, Arial, sans-serif">10<tspan dy="-3.3" font-size="4.8">3</tspan></text>
<text transform="translate(193.2,741.8) scale(0.64,1)" font-size="7.8" fill="#111" font-weight="bold" letter-spacing="0.5" font-family="Liberation Sans, Arial, sans-serif">10<tspan dy="-3.3" font-size="4.8">4</tspan></text>
<polygon points="241.0,732.3 241.0,728.0 241.5,726.9 242.1,726.2 242.6,725.1 243.2,723.1 243.7,720.9 244.3,719.1 244.8,715.0 245.4,712.9 245.9,707.6 246.5,703.9 247.0,699.8 247.6,693.4 248.1,687.1 248.7,681.5 249.2,675.0 249.8,668.9 250.3,666.7 250.9,663.4 251.4,658.3 252.0,663.1 252.5,666.6 253.1,667.2 253.6,672.1 254.2,678.8 254.7,687.6 255.3,697.5 255.8,707.0 256.4,715.3 256.9,722.3 257.5,726.6 258.0,728.9 258.6,730.1 259.1,731.1 259.7,731.4 260.2,731.6 260.8,731.6 261.3,732.0 261.9,731.8 262.3,732.1 262.3,732.3" fill="#cbcbcb" stroke="none"/>
<polyline points="241.0,728.0 241.5,726.9 242.1,726.2 242.6,725.1 243.2,723.1 243.7,720.9 244.3,719.1 244.8,715.0 245.4,712.9 245.9,707.6 246.5,703.9 247.0,699.8 247.6,693.4 248.1,687.1 248.7,681.5 249.2,675.0 249.8,668.9 250.3,666.7 250.9,663.4 251.4,658.3 252.0,663.1 252.5,666.6 253.1,667.2 253.6,672.1 254.2,678.8 254.7,687.6 255.3,697.5 255.8,707.0 256.4,715.3 256.9,722.3 257.5,726.6 258.0,728.9 258.6,730.1 259.1,731.1 259.7,731.4 260.2,731.6 260.8,731.6 261.3,732.0 261.9,731.8 262.3,732.1" fill="none" stroke="#222" stroke-width="1" stroke-dasharray="1.8 0.6"/>
<polyline points="241.0,728.0 241.5,727.1 242.1,725.9 242.6,725.6 243.2,724.3 243.7,720.4 244.3,718.9 244.8,715.9 245.4,712.4 245.9,708.6 246.5,702.3 247.0,699.3 247.6,693.5 248.1,687.7 248.7,681.0 249.2,675.5 249.8,670.6 250.3,668.5 250.9,666.3 251.4,663.5 252.0,665.9 252.5,666.7 253.1,671.9 253.6,675.9 254.2,685.8 254.7,695.9 255.3,705.1 255.8,714.3 256.4,722.1 256.9,725.8 257.5,728.3 258.0,730.0 258.6,731.3 259.1,731.4 259.7,731.5 260.2,731.5 260.8,731.6 261.3,731.9 261.9,731.9 262.3,732.1" fill="none" stroke="#222" stroke-width="1" stroke-dasharray="1.7 0.7"/>
<line x1="240.8" y1="652.5" x2="240.8" y2="732.3" stroke="#b4b4b4" stroke-width="0.8"/>
<line x1="240.8" y1="732.6" x2="304.4" y2="732.6" stroke="#d8d8d8" stroke-width="0.6"/>
<line x1="262.3" y1="732.3" x2="273.1" y2="732.3" stroke="#444" stroke-width="0.8" stroke-dasharray="2 1.2"/>
<path d="M256.9 728.0H303.7M256.9 726.5v3.0M303.7 726.5v3.0" stroke="#666" stroke-width="0.7" fill="none"/>
<text transform="translate(240.7,741.8) scale(0.64,1)" font-size="7.8" fill="#111" font-weight="bold" letter-spacing="0.5" font-family="Liberation Sans, Arial, sans-serif">10<tspan dy="-3.3" font-size="4.8">0</tspan></text>
<text transform="translate(255.3,741.8) scale(0.64,1)" font-size="7.8" fill="#111" font-weight="bold" letter-spacing="0.5" font-family="Liberation Sans, Arial, sans-serif">10<tspan dy="-3.3" font-size="4.8">1</tspan></text>
<text transform="translate(271.1,741.8) scale(0.64,1)" font-size="7.8" fill="#111" font-weight="bold" letter-spacing="0.5" font-family="Liberation Sans, Arial, sans-serif">10<tspan dy="-3.3" font-size="4.8">2</tspan></text>
<text transform="translate(286.4,741.8) scale(0.64,1)" font-size="7.8" fill="#111" font-weight="bold" letter-spacing="0.5" font-family="Liberation Sans, Arial, sans-serif">10<tspan dy="-3.3" font-size="4.8">3</tspan></text>
<text transform="translate(303.2,741.8) scale(0.64,1)" font-size="7.8" fill="#111" font-weight="bold" letter-spacing="0.5" font-family="Liberation Sans, Arial, sans-serif">10<tspan dy="-3.3" font-size="4.8">4</tspan></text>
<polygon points="354.4,732.3 354.4,731.2 355.0,729.8 355.5,728.9 356.1,728.8 356.6,726.9 357.2,724.1 357.7,721.9 358.3,718.8 358.8,714.9 359.4,712.6 359.9,707.0 360.5,701.5 361.0,698.5 361.6,691.5 362.1,686.7 362.7,681.0 363.2,675.2 363.8,670.6 364.3,665.4 364.9,665.6 365.4,670.8 366.0,675.1 366.5,679.1 367.1,686.4 367.6,693.3 368.2,702.5 368.7,710.6 369.3,716.8 369.8,722.9 370.4,725.8 370.9,729.2 371.5,730.3 372.0,731.2 372.3,731.6 372.3,732.3" fill="#cbcbcb" stroke="none"/>
<polyline points="354.4,731.2 355.0,729.8 355.5,728.9 356.1,728.8 356.6,726.9 357.2,724.1 357.7,721.9 358.3,718.8 358.8,714.9 359.4,712.6 359.9,707.0 360.5,701.5 361.0,698.5 361.6,691.5 362.1,686.7 362.7,681.0 363.2,675.2 363.8,670.6 364.3,665.4 364.9,665.6 365.4,670.8 366.0,675.1 366.5,679.1 367.1,686.4 367.6,693.3 368.2,702.5 368.7,710.6 369.3,716.8 369.8,722.9 370.4,725.8 370.9,729.2 371.5,730.3 372.0,731.2 372.3,731.6" fill="none" stroke="#222" stroke-width="1" stroke-dasharray="1.8 0.6"/>
<polyline points="354.4,730.1 355.0,729.1 355.5,728.0 356.1,727.3 356.6,724.9 357.2,722.8 357.7,720.2 358.3,715.9 358.8,712.4 359.4,707.2 359.9,702.5 360.5,697.4 361.0,692.5 361.6,691.0 362.1,688.0 362.7,683.6 363.2,681.7 363.8,679.9 364.3,678.4 364.9,679.6 365.4,678.4 366.0,682.4 366.5,687.9 367.1,694.7 367.6,700.6 368.2,707.7 368.7,714.8 369.3,720.8 369.8,725.1 370.4,728.7 370.9,729.8 371.5,730.7 372.0,731.7 372.6,732.0 373.1,731.9 373.7,731.9 374.2,732.0 374.8,732.1 375.3,732.0 375.9,732.1 376.4,732.0 377.0,732.1 377.5,732.1 378.1,732.1 378.6,732.2 379.2,732.1 379.7,732.1 380.3,732.2 380.8,732.2 381.4,732.2 381.9,732.3 382.5,732.3 383.0,732.3 383.1,732.3" fill="none" stroke="#111" stroke-width="1.3"/>
<line x1="354.2" y1="655.8" x2="354.2" y2="732.3" stroke="#222" stroke-width="1.0"/>
<line x1="354.2" y1="732.6" x2="415.9" y2="732.6" stroke="#d8d8d8" stroke-width="0.6"/>
<line x1="372.3" y1="732.3" x2="415.4" y2="732.3" stroke="#444" stroke-width="0.8" stroke-dasharray="2 1.2"/>
<path d="M372.3 730.1H415.4M372.3 728.6v3.0M415.4 728.6v3.0" stroke="#444" stroke-width="0.7" fill="none"/>
<path d="M407.9 727.3h0.8m1.6 0h0.8m1.6 -0.4h1.2m1.6 0.4h0.8" stroke="#999" stroke-width="0.6" fill="none"/>
<text transform="translate(353.5,741.8) scale(0.64,1)" font-size="7.8" fill="#111" font-weight="bold" letter-spacing="0.5" font-family="Liberation Sans, Arial, sans-serif">10<tspan dy="-3.3" font-size="4.8">0</tspan></text>
<text transform="translate(369.2,741.8) scale(0.64,1)" font-size="7.8" fill="#111" font-weight="bold" letter-spacing="0.5" font-family="Liberation Sans, Arial, sans-serif">10<tspan dy="-3.3" font-size="4.8">1</tspan></text>
<text transform="translate(384.3,741.8) scale(0.64,1)" font-size="7.8" fill="#111" font-weight="bold" letter-spacing="0.5" font-family="Liberation Sans, Arial, sans-serif">10<tspan dy="-3.3" font-size="4.8">2</tspan></text>
<text transform="translate(399.4,741.8) scale(0.64,1)" font-size="7.8" fill="#111" font-weight="bold" letter-spacing="0.5" font-family="Liberation Sans, Arial, sans-serif">10<tspan dy="-3.3" font-size="4.8">3</tspan></text>
<text transform="translate(416.0,741.8) scale(0.64,1)" font-size="7.8" fill="#111" font-weight="bold" letter-spacing="0.5" font-family="Liberation Sans, Arial, sans-serif">10<tspan dy="-3.3" font-size="4.8">4</tspan></text>
<polygon points="99.3,1010.1 99.3,998.4 99.9,996.8 100.5,992.9 101.1,994.5 101.7,990.5 102.3,988.0 102.9,984.2 103.5,983.1 104.1,979.3 104.7,978.0 105.3,975.6 105.9,972.0 106.5,969.4 107.1,963.9 107.7,963.5 108.3,955.5 108.9,948.9 109.5,947.4 110.1,941.8 110.7,936.7 111.3,934.3 111.9,932.0 112.5,924.9 113.1,924.5 113.7,925.9 114.3,922.1 114.9,918.5 115.5,918.0 116.1,917.2 116.7,918.5 117.3,921.4 117.9,920.6 118.5,917.8 119.1,925.9 119.7,926.5 120.3,934.6 120.9,936.7 121.5,942.2 122.1,950.0 122.7,947.4 123.3,951.3 123.9,955.1 124.5,957.8 125.1,963.1 125.7,971.1 126.3,973.9 126.9,976.3 127.5,980.7 128.1,987.2 128.7,989.3 129.3,992.9 129.9,996.6 130.5,1000.4 131.1,1003.2 131.7,1004.2 132.3,1005.3 132.9,1006.5 133.5,1007.8 134.1,1008.0 134.7,1007.7 135.3,1008.5 135.9,1008.4 136.5,1008.4 137.1,1008.2 137.7,1008.0 138.3,1008.3 138.9,1008.0 139.5,1009.0 140.1,1008.8 140.7,1008.3 141.3,1009.2 141.9,1009.1 142.5,1008.2 143.1,1009.4 143.7,1009.1 144.3,1009.5 144.9,1008.5 145.5,1009.0 146.1,1009.0 146.7,1009.0 147.3,1009.0 147.9,1009.3 148.5,1008.5 149.1,1008.5 149.7,1008.5 150.3,1008.8 150.9,1008.8 151.5,1009.1 152.1,1009.1 152.7,1009.0 153.3,1008.8 153.9,1008.9 154.5,1009.3 155.1,1009.3 155.7,1009.1 156.3,1008.9 156.9,1009.5 157.5,1008.8 158.1,1009.2 158.7,1009.4 159.3,1008.9 159.9,1009.2 160.5,1008.6 161.1,1009.3 161.7,1009.0 162.3,1008.5 162.9,1009.2 163.5,1008.7 164.1,1009.3 164.7,1008.7 165.3,1008.9 165.9,1009.0 166.5,1008.8 167.1,1009.0 167.7,1008.7 168.3,1009.1 168.9,1008.9 169.5,1008.9 170.1,1008.0 170.7,1009.2 171.3,1008.9 171.9,1008.3 172.5,1008.9 173.1,1009.0 173.7,1009.2 174.3,1008.4 174.9,1009.3 175.5,1008.7 176.1,1009.3 176.7,1008.0 177.3,1008.0 177.9,1007.3 178.5,1006.6 179.1,1007.3 179.7,1007.5 180.3,1008.1 180.9,1008.1 181.5,1007.9 182.1,1007.7 182.7,1008.2 183.3,1008.3 183.9,1008.4 184.5,1009.0 185.1,1009.0 185.7,1009.0 186.3,1009.2 186.9,1009.3 187.5,1009.5 188.1,1009.7 188.7,1009.8 189.3,1009.4 189.9,1009.3 190.5,1010.0 191.1,1009.7 191.7,1009.9 192.3,1009.4 192.9,1009.7 193.5,1009.7 194.1,1009.5 194.7,1009.7 195.3,1009.9 195.9,1010.0 196.5,1010.0 197.1,1009.8 197.7,1009.7 198.3,1010.0 198.9,1010.0 199.5,1010.0 200.1,1009.9 200.7,1010.0 201.3,1010.1 201.9,1010.1 202.5,1010.0 203.1,1010.1 203.7,1010.1 203.8,1010.1 203.8,1010.1" fill="#c6cfcf" stroke="none"/>
<polyline points="99.3,998.4 99.9,996.8 100.5,992.9 101.1,994.5 101.7,990.5 102.3,988.0 102.9,984.2 103.5,983.1 104.1,979.3 104.7,978.0 105.3,975.6 105.9,972.0 106.5,969.4 107.1,963.9 107.7,963.5 108.3,955.5 108.9,948.9 109.5,947.4 110.1,941.8 110.7,936.7 111.3,934.3 111.9,932.0 112.5,924.9 113.1,924.5 113.7,925.9 114.3,922.1 114.9,918.5 115.5,918.0 116.1,917.2 116.7,918.5 117.3,921.4 117.9,920.6 118.5,917.8 119.1,925.9 119.7,926.5 120.3,934.6 120.9,936.7 121.5,942.2 122.1,950.0 122.7,947.4 123.3,951.3 123.9,955.1 124.5,957.8 125.1,963.1 125.7,971.1 126.3,973.9 126.9,976.3 127.5,980.7 128.1,987.2 128.7,989.3 129.3,992.9 129.9,996.6 130.5,1000.4 131.1,1003.2 131.7,1004.2 132.3,1005.3 132.9,1006.5 133.5,1007.8 134.1,1008.0 134.7,1007.7 135.3,1008.5 135.9,1008.4 136.5,1008.4 137.1,1008.2 137.7,1008.0 138.3,1008.3 138.9,1008.0 139.5,1009.0 140.1,1008.8 140.7,1008.3 141.3,1009.2 141.9,1009.1 142.5,1008.2 143.1,1009.4 143.7,1009.1 144.3,1009.5 144.9,1008.5 145.5,1009.0 146.1,1009.0 146.7,1009.0 147.3,1009.0 147.9,1009.3 148.5,1008.5 149.1,1008.5 149.7,1008.5 150.3,1008.8 150.9,1008.8 151.5,1009.1 152.1,1009.1 152.7,1009.0 153.3,1008.8 153.9,1008.9 154.5,1009.3 155.1,1009.3 155.7,1009.1 156.3,1008.9 156.9,1009.5 157.5,1008.8 158.1,1009.2 158.7,1009.4 159.3,1008.9 159.9,1009.2 160.5,1008.6 161.1,1009.3 161.7,1009.0 162.3,1008.5 162.9,1009.2 163.5,1008.7 164.1,1009.3 164.7,1008.7 165.3,1008.9 165.9,1009.0 166.5,1008.8 167.1,1009.0 167.7,1008.7 168.3,1009.1 168.9,1008.9 169.5,1008.9 170.1,1008.0 170.7,1009.2 171.3,1008.9 171.9,1008.3 172.5,1008.9 173.1,1009.0 173.7,1009.2 174.3,1008.4 174.9,1009.3 175.5,1008.7 176.1,1009.3 176.7,1008.0 177.3,1008.0 177.9,1007.3 178.5,1006.6 179.1,1007.3 179.7,1007.5 180.3,1008.1 180.9,1008.1 181.5,1007.9 182.1,1007.7 182.7,1008.2 183.3,1008.3 183.9,1008.4 184.5,1009.0 185.1,1009.0 185.7,1009.0 186.3,1009.2 186.9,1009.3 187.5,1009.5 188.1,1009.7 188.7,1009.8 189.3,1009.4 189.9,1009.3 190.5,1010.0 191.1,1009.7 191.7,1009.9 192.3,1009.4 192.9,1009.7 193.5,1009.7 194.1,1009.5 194.7,1009.7 195.3,1009.9 195.9,1010.0 196.5,1010.0 197.1,1009.8 197.7,1009.7 198.3,1010.0 198.9,1010.0 199.5,1010.0 200.1,1009.9 200.7,1010.0 201.3,1010.1 201.9,1010.1 202.5,1010.0 203.1,1010.1 203.7,1010.1 203.8,1010.1" fill="none" stroke="#222828" stroke-width="0.8"/>
<polyline points="99.3,995.9 99.9,988.6 100.5,979.3 101.1,980.6 101.7,979.5 102.3,976.8 102.9,977.7 103.5,972.0 104.1,972.0 104.7,969.8 105.3,970.4 105.9,971.1 106.5,962.7 107.1,968.1 107.7,964.8 108.3,960.6 108.9,958.4 109.5,961.0 110.1,952.7 110.7,951.4 111.3,946.5 111.9,950.6 112.5,952.3 113.1,948.2 113.7,946.9 114.3,943.8 114.9,942.1 115.5,930.9 116.1,936.6 116.7,927.0 117.3,922.0 117.9,925.9 118.5,928.2 119.1,938.6 119.7,942.9 120.3,937.2 120.9,949.4 121.5,952.3 122.1,950.0 122.7,949.9 123.3,956.0 123.9,960.8 124.5,968.2 125.1,970.3 125.7,970.0 126.3,980.6 126.9,980.3 127.5,989.9 128.1,989.0 128.7,994.0 129.3,995.9 129.9,998.3 130.5,1003.1 131.1,1004.0 131.7,1004.9 132.3,1005.4 132.9,1004.1 133.5,1006.3 134.1,1007.0 134.7,1006.7 135.3,1008.2 135.9,1007.1 136.5,1007.3 137.1,1007.1 137.7,1006.3 138.3,1008.7 138.9,1009.4 139.5,1008.6 140.1,1007.7 140.7,1006.5 141.3,1008.9 141.9,1009.7 142.5,1009.0 143.1,1009.5 143.7,1009.9 144.3,1009.7 144.9,1008.5 145.5,1009.7 146.1,1009.5 146.7,1007.8 147.3,1008.6 147.9,1007.9 148.5,1008.8 149.1,1009.4 149.7,1008.2 150.3,1007.5 150.9,1009.9 151.5,1009.3 152.1,1010.1 152.7,1008.1 153.3,1009.8 153.9,1010.1 154.5,1010.1 155.1,1008.9 155.7,1009.3 156.3,1009.0 156.9,1009.8 157.5,1009.8 158.1,1009.2 158.7,1008.2 159.3,1009.7 159.9,1008.8 160.5,1009.6 161.1,1009.4 161.7,1010.1 162.3,1010.0 162.9,1008.9 163.5,1009.5 164.1,1010.1 164.7,1008.9 165.3,1009.6 165.9,1010.1 166.5,1010.1 167.1,1009.6 167.7,1008.4 168.3,1008.4 168.9,1009.4 169.5,1009.4 170.1,1010.1 170.7,1008.5 171.3,1009.9 171.9,1009.6 172.5,1007.8 173.1,1008.3 173.7,1009.0 174.3,1008.5 174.9,1008.7 175.5,1009.1 176.1,1007.6 176.7,1008.3 177.3,1006.9 177.9,1006.5 178.5,1007.3 179.1,1005.6 179.7,1006.8 180.3,1008.6 180.9,1007.4 181.5,1007.6 182.1,1008.8 182.7,1008.2 183.3,1009.6 183.9,1007.9 184.5,1009.3 185.1,1008.5 185.7,1008.4 186.3,1010.1 186.9,1008.4 187.5,1010.1 188.1,1009.6 188.7,1010.1 189.3,1008.5 189.9,1010.0 190.5,1010.1 191.1,1009.2 191.7,1009.2 192.3,1010.1 192.9,1009.5 193.5,1009.2 194.1,1009.1 194.7,1009.8 195.3,1009.7 195.9,1009.7 196.5,1010.1 197.1,1009.5 197.7,1010.0 198.3,1010.1 198.9,1009.3 199.5,1010.1 200.1,1010.1 200.7,1009.6 201.3,1009.7 201.9,1009.8 202.5,1009.8 203.1,1010.1 203.7,1010.0 203.8,1010.1" fill="none" stroke="#151515" stroke-width="1.15" stroke-linejoin="round"/>
<line x1="99.1" y1="907.9" x2="99.1" y2="1010.1" stroke="#8a9090" stroke-width="0.8"/>
<line x1="99.1" y1="954.5" x2="99.1" y2="1010.1" stroke="#222" stroke-width="0.95"/>
<line x1="99.1" y1="1010.3" x2="203.8" y2="1010.3" stroke="#444" stroke-width="0.7"/>
<text transform="translate(97.4,1015.7) scale(0.8,1)" font-size="3.6" fill="#555" font-family="Liberation Sans, Arial, sans-serif">10<tspan dy="-1.5" font-size="2.2">0</tspan></text>
<text transform="translate(123.2,1015.7) scale(0.8,1)" font-size="3.6" fill="#555" font-family="Liberation Sans, Arial, sans-serif">10<tspan dy="-1.5" font-size="2.2">1</tspan></text>
<text transform="translate(151.2,1015.7) scale(0.8,1)" font-size="3.6" fill="#555" font-family="Liberation Sans, Arial, sans-serif">10<tspan dy="-1.5" font-size="2.2">2</tspan></text>
<text transform="translate(177.0,1015.7) scale(0.8,1)" font-size="3.6" fill="#555" font-family="Liberation Sans, Arial, sans-serif">10<tspan dy="-1.5" font-size="2.2">3</tspan></text>
<text transform="translate(201.6,1015.7) scale(0.8,1)" font-size="3.6" fill="#555" font-family="Liberation Sans, Arial, sans-serif">10<tspan dy="-1.5" font-size="2.2">4</tspan></text>
<polygon points="225.6,1010.1 225.6,964.8 226.2,963.1 226.8,962.2 227.4,954.2 228.0,953.1 228.6,946.6 229.2,948.4 229.8,941.9 230.4,939.4 231.0,936.7 231.6,935.4 232.2,931.2 232.8,929.8 233.4,926.8 234.0,927.1 234.6,923.0 235.2,924.6 235.8,918.8 236.4,921.2 237.0,925.9 237.6,920.8 238.2,916.7 238.8,919.8 239.4,916.6 240.0,914.6 240.6,918.0 241.2,924.9 241.8,927.5 242.4,930.9 243.0,935.1 243.6,940.7 244.2,950.8 244.8,953.9 245.4,957.0 246.0,960.3 246.6,966.8 247.2,977.8 247.8,977.7 248.4,984.3 249.0,989.8 249.6,992.9 250.2,995.8 250.8,997.8 251.4,1000.6 252.0,1003.8 252.6,1003.3 253.2,1005.5 253.8,1005.3 254.4,1006.5 255.0,1007.1 255.6,1007.9 256.2,1007.3 256.8,1008.4 257.4,1008.7 258.0,1008.6 258.6,1009.0 259.2,1008.6 259.8,1008.7 260.4,1009.0 261.0,1008.3 261.6,1009.1 262.2,1008.9 262.8,1008.8 263.4,1009.2 264.0,1009.5 264.6,1009.3 265.2,1009.8 265.8,1009.2 266.4,1009.2 267.0,1009.9 267.6,1009.7 268.2,1009.8 268.8,1009.4 269.4,1009.8 270.0,1009.7 270.6,1009.7 271.2,1009.6 271.8,1009.9 272.4,1009.5 273.0,1009.4 273.6,1009.3 274.2,1009.9 274.8,1009.5 275.4,1009.4 276.0,1009.4 276.6,1009.6 277.2,1009.4 277.8,1009.6 278.4,1009.5 279.0,1009.6 279.6,1009.5 280.2,1009.7 280.8,1009.6 281.4,1009.7 282.0,1009.7 282.6,1009.8 283.2,1009.3 283.8,1009.6 284.4,1009.6 285.0,1009.9 285.6,1009.4 286.2,1009.6 286.8,1009.7 287.4,1009.7 288.0,1009.9 288.6,1009.7 289.2,1009.9 289.8,1009.5 290.4,1009.4 291.0,1010.0 291.6,1009.9 292.2,1009.9 292.8,1009.8 293.4,1009.9 294.0,1009.6 294.6,1009.9 295.2,1009.7 295.8,1009.9 296.4,1009.8 297.0,1009.6 297.6,1009.7 298.2,1010.0 298.8,1009.8 299.4,1009.8 300.0,1009.9 300.6,1009.8 301.2,1009.8 301.8,1009.9 302.4,1009.9 303.0,1010.0 303.6,1009.9 304.2,1010.1 304.8,1010.1 305.4,1010.1 306.0,1010.0 306.6,1009.9 307.2,1009.9 307.8,1009.9 308.4,1009.8 309.0,1009.9 309.6,1009.9 310.2,1010.1 310.8,1010.0 311.4,1009.9 312.0,1009.8 312.6,1009.9 313.2,1009.9 313.8,1009.9 314.4,1009.9 315.0,1009.8 315.6,1010.0 316.2,1010.0 316.8,1010.1 317.4,1010.0 318.0,1010.0 318.6,1010.1 319.2,1010.0 319.8,1010.0 320.4,1010.0 321.0,1010.0 321.6,1010.1 322.2,1010.1 322.8,1010.1 323.4,1010.0 324.0,1010.0 324.6,1010.0 325.2,1010.1 325.8,1010.0 326.4,1010.1 327.0,1010.1 327.6,1010.1 328.2,1010.1 328.8,1010.1 328.8,1010.1" fill="#c6cfcf" stroke="none"/>
<polyline points="225.6,964.8 226.2,963.1 226.8,962.2 227.4,954.2 228.0,953.1 228.6,946.6 229.2,948.4 229.8,941.9 230.4,939.4 231.0,936.7 231.6,935.4 232.2,931.2 232.8,929.8 233.4,926.8 234.0,927.1 234.6,923.0 235.2,924.6 235.8,918.8 236.4,921.2 237.0,925.9 237.6,920.8 238.2,916.7 238.8,919.8 239.4,916.6 240.0,914.6 240.6,918.0 241.2,924.9 241.8,927.5 242.4,930.9 243.0,935.1 243.6,940.7 244.2,950.8 244.8,953.9 245.4,957.0 246.0,960.3 246.6,966.8 247.2,977.8 247.8,977.7 248.4,984.3 249.0,989.8 249.6,992.9 250.2,995.8 250.8,997.8 251.4,1000.6 252.0,1003.8 252.6,1003.3 253.2,1005.5 253.8,1005.3 254.4,1006.5 255.0,1007.1 255.6,1007.9 256.2,1007.3 256.8,1008.4 257.4,1008.7 258.0,1008.6 258.6,1009.0 259.2,1008.6 259.8,1008.7 260.4,1009.0 261.0,1008.3 261.6,1009.1 262.2,1008.9 262.8,1008.8 263.4,1009.2 264.0,1009.5 264.6,1009.3 265.2,1009.8 265.8,1009.2 266.4,1009.2 267.0,1009.9 267.6,1009.7 268.2,1009.8 268.8,1009.4 269.4,1009.8 270.0,1009.7 270.6,1009.7 271.2,1009.6 271.8,1009.9 272.4,1009.5 273.0,1009.4 273.6,1009.3 274.2,1009.9 274.8,1009.5 275.4,1009.4 276.0,1009.4 276.6,1009.6 277.2,1009.4 277.8,1009.6 278.4,1009.5 279.0,1009.6 279.6,1009.5 280.2,1009.7 280.8,1009.6 281.4,1009.7 282.0,1009.7 282.6,1009.8 283.2,1009.3 283.8,1009.6 284.4,1009.6 285.0,1009.9 285.6,1009.4 286.2,1009.6 286.8,1009.7 287.4,1009.7 288.0,1009.9 288.6,1009.7 289.2,1009.9 289.8,1009.5 290.4,1009.4 291.0,1010.0 291.6,1009.9 292.2,1009.9 292.8,1009.8 293.4,1009.9 294.0,1009.6 294.6,1009.9 295.2,1009.7 295.8,1009.9 296.4,1009.8 297.0,1009.6 297.6,1009.7 298.2,1010.0 298.8,1009.8 299.4,1009.8 300.0,1009.9 300.6,1009.8 301.2,1009.8 301.8,1009.9 302.4,1009.9 303.0,1010.0 303.6,1009.9 304.2,1010.1 304.8,1010.1 305.4,1010.1 306.0,1010.0 306.6,1009.9 307.2,1009.9 307.8,1009.9 308.4,1009.8 309.0,1009.9 309.6,1009.9 310.2,1010.1 310.8,1010.0 311.4,1009.9 312.0,1009.8 312.6,1009.9 313.2,1009.9 313.8,1009.9 314.4,1009.9 315.0,1009.8 315.6,1010.0 316.2,1010.0 316.8,1010.1 317.4,1010.0 318.0,1010.0 318.6,1010.1 319.2,1010.0 319.8,1010.0 320.4,1010.0 321.0,1010.0 321.6,1010.1 322.2,1010.1 322.8,1010.1 323.4,1010.0 324.0,1010.0 324.6,1010.0 325.2,1010.1 325.8,1010.0 326.4,1010.1 327.0,1010.1 327.6,1010.1 328.2,1010.1 328.8,1010.1" fill="none" stroke="#222828" stroke-width="0.8"/>
<polyline points="225.6,959.7 226.2,970.5 226.8,967.8 227.4,957.8 228.0,947.5 228.6,958.6 229.2,962.6 229.8,946.2 230.4,936.4 231.0,936.6 231.6,948.2 232.2,942.7 232.8,935.5 233.4,926.8 234.0,927.7 234.6,932.5 235.2,933.7 235.8,922.9 236.4,919.6 237.0,919.4 237.6,912.4 238.2,923.7 238.8,916.2 239.4,927.1 240.0,912.5 240.6,910.2 241.2,918.9 241.8,920.5 242.4,931.0 243.0,931.2 243.6,930.4 244.2,942.5 244.8,948.2 245.4,943.3 246.0,961.7 246.6,962.1 247.2,968.2 247.8,965.8 248.4,974.8 249.0,980.1 249.6,987.9 250.2,986.3 250.8,990.7 251.4,991.7 252.0,998.1 252.6,1000.5 253.2,998.8 253.8,1002.1 254.4,1004.9 255.0,1006.8 255.6,1006.2 256.2,1005.7 256.8,1005.4 257.4,1006.3 258.0,1007.2 258.6,1008.1 259.2,1008.0 259.8,1009.7 260.4,1008.6 261.0,1007.7 261.6,1009.9 262.2,1009.6 262.8,1009.1 263.4,1008.6 264.0,1007.8 264.6,1008.4 265.2,1009.7 265.8,1008.5 266.4,1008.2 267.0,1009.3 267.6,1009.3 268.2,1009.6 268.8,1009.6 269.4,1010.1 270.0,1008.6 270.6,1009.8 271.2,1008.5 271.8,1009.7 272.4,1009.3 273.0,1009.4 273.6,1009.9 274.2,1009.2 274.8,1010.0 275.4,1009.8 276.0,1009.3 276.6,1008.9 277.2,1008.8 277.8,1008.9 278.4,1009.2 279.0,1009.3 279.6,1010.1 280.2,1009.7 280.8,1009.8 281.4,1008.8 282.0,1008.9 282.6,1009.2 283.2,1009.5 283.8,1008.7 284.4,1010.1 285.0,1009.0 285.6,1010.1 286.2,1008.0 286.8,1009.4 287.4,1009.6 288.0,1009.6 288.6,1009.8 289.2,1009.6 289.8,1009.6 290.4,1008.3 291.0,1009.1 291.6,1008.1 292.2,1009.9 292.8,1009.7 293.4,1009.4 294.0,1009.1 294.6,1009.2 295.2,1010.1 295.8,1010.1 296.4,1009.5 297.0,1010.1 297.6,1008.7 298.2,1008.5 298.8,1009.3 299.4,1009.1 300.0,1009.3 300.6,1009.7 301.2,1010.1 301.8,1009.3 302.4,1009.7 303.0,1009.8 303.6,1009.7 304.2,1010.1 304.8,1010.1 305.4,1009.1 306.0,1009.8 306.6,1009.6 307.2,1009.9 307.8,1009.0 308.4,1008.9 309.0,1008.6 309.6,1010.1 310.2,1009.8 310.8,1009.8 311.4,1009.3 312.0,1009.7 312.6,1009.7 313.2,1009.5 313.8,1009.7 314.4,1010.0 315.0,1010.0 315.6,1009.9 316.2,1010.0 316.8,1009.8 317.4,1009.9 318.0,1009.9 318.6,1010.0 319.2,1009.9 319.8,1009.9 320.4,1009.9 321.0,1009.9 321.6,1010.1 322.2,1010.1 322.8,1010.0 323.4,1010.1 324.0,1010.1 324.6,1009.8 325.2,1010.1 325.8,1010.1 326.4,1010.1 327.0,1010.1 327.6,1010.1 328.2,1010.0 328.8,1010.1" fill="none" stroke="#151515" stroke-width="1.15" stroke-linejoin="round"/>
<line x1="225.3" y1="907.9" x2="225.3" y2="1010.1" stroke="#8a9090" stroke-width="0.8"/>
<line x1="225.3" y1="907.9" x2="225.3" y2="1010.1" stroke="#222" stroke-width="0.95"/>
<line x1="225.3" y1="1010.3" x2="330.1" y2="1010.3" stroke="#444" stroke-width="0.7"/>
<text transform="translate(223.7,1015.7) scale(0.8,1)" font-size="3.6" fill="#555" font-family="Liberation Sans, Arial, sans-serif">10<tspan dy="-1.5" font-size="2.2">0</tspan></text>
<text transform="translate(251.1,1015.7) scale(0.8,1)" font-size="3.6" fill="#555" font-family="Liberation Sans, Arial, sans-serif">10<tspan dy="-1.5" font-size="2.2">1</tspan></text>
<text transform="translate(277.5,1015.7) scale(0.8,1)" font-size="3.6" fill="#555" font-family="Liberation Sans, Arial, sans-serif">10<tspan dy="-1.5" font-size="2.2">2</tspan></text>
<text transform="translate(304.6,1015.7) scale(0.8,1)" font-size="3.6" fill="#555" font-family="Liberation Sans, Arial, sans-serif">10<tspan dy="-1.5" font-size="2.2">3</tspan></text>
<text transform="translate(329.7,1015.7) scale(0.8,1)" font-size="3.6" fill="#555" font-family="Liberation Sans, Arial, sans-serif">10<tspan dy="-1.5" font-size="2.2">4</tspan></text>
<polygon points="352.8,1008.8 352.8,990.7 353.4,987.4 354.0,986.5 354.6,984.6 355.2,980.4 355.8,978.9 356.4,976.6 357.0,975.0 357.6,973.0 358.2,969.7 358.8,965.7 359.4,967.4 360.0,966.1 360.6,961.4 361.2,961.6 361.8,958.8 362.4,957.1 363.0,954.4 363.6,949.7 364.2,949.8 364.8,948.5 365.4,943.5 366.0,948.0 366.6,947.1 367.2,945.4 367.8,945.1 368.4,942.0 369.0,939.1 369.6,938.0 370.2,938.1 370.8,941.5 371.4,942.7 372.0,945.8 372.6,944.0 373.2,955.7 373.8,959.1 374.4,960.0 375.0,966.3 375.6,971.0 376.2,975.2 376.8,979.0 377.4,983.7 378.0,986.7 378.6,991.2 379.2,994.3 379.8,997.7 380.4,998.2 381.0,1000.4 381.6,1001.9 382.2,1003.8 382.8,1003.5 383.4,1005.0 384.0,1005.8 384.6,1006.2 385.2,1006.4 385.8,1006.6 386.4,1006.8 387.0,1007.2 387.6,1007.6 388.2,1007.1 388.8,1007.0 389.4,1007.5 390.0,1007.5 390.6,1007.2 391.2,1007.4 391.8,1007.7 392.4,1008.0 393.0,1007.5 393.6,1007.7 394.2,1008.2 394.8,1007.8 395.4,1008.3 396.0,1008.4 396.6,1008.3 397.2,1008.1 397.8,1008.3 398.4,1008.2 399.0,1008.4 399.6,1008.1 400.2,1008.6 400.8,1007.9 401.4,1008.3 402.0,1008.3 402.6,1008.5 403.2,1008.2 403.8,1008.5 404.4,1008.2 405.0,1008.5 405.6,1008.7 406.2,1008.3 406.8,1008.5 407.4,1008.2 408.0,1008.6 408.6,1008.6 409.2,1008.4 409.8,1008.2 410.4,1008.5 411.0,1008.6 411.6,1008.6 412.2,1008.6 412.8,1008.0 413.4,1008.3 414.0,1008.7 414.6,1008.2 415.2,1008.7 415.8,1008.8 416.4,1008.6 417.0,1008.7 417.6,1008.4 418.2,1008.2 418.8,1008.4 419.4,1008.4 420.0,1008.5 420.6,1008.6 421.2,1008.5 421.8,1008.5 422.4,1008.6 423.0,1008.5 423.6,1008.7 424.2,1008.6 424.8,1008.5 425.4,1008.5 426.0,1008.5 426.6,1008.7 427.2,1008.6 427.8,1008.4 428.4,1008.5 429.0,1008.5 429.6,1008.5 430.2,1008.7 430.8,1008.4 431.4,1008.6 432.0,1008.6 432.6,1008.5 433.2,1008.6 433.8,1008.6 434.4,1008.7 435.0,1008.6 435.6,1008.6 436.2,1008.4 436.8,1008.5 437.4,1008.7 438.0,1008.7 438.6,1008.6 439.2,1008.6 439.8,1008.7 440.4,1008.5 441.0,1008.6 441.6,1008.7 442.2,1008.7 442.8,1008.6 443.4,1008.5 444.0,1008.8 444.6,1008.7 445.2,1008.6 445.8,1008.7 446.4,1008.8 447.0,1008.5 447.6,1008.8 448.2,1008.8 448.8,1008.6 449.4,1008.8 450.0,1008.6 450.6,1008.8 451.2,1008.8 451.8,1008.8 452.4,1008.7 453.0,1008.8 453.6,1008.8 454.2,1008.7 454.8,1008.7 455.4,1008.8 456.0,1008.8 456.6,1008.8 457.2,1008.8 457.8,1008.8 457.8,1008.8" fill="#c6cfcf" stroke="none"/>
<polyline points="352.8,990.7 353.4,987.4 354.0,986.5 354.6,984.6 355.2,980.4 355.8,978.9 356.4,976.6 357.0,975.0 357.6,973.0 358.2,969.7 358.8,965.7 359.4,967.4 360.0,966.1 360.6,961.4 361.2,961.6 361.8,958.8 362.4,957.1 363.0,954.4 363.6,949.7 364.2,949.8 364.8,948.5 365.4,943.5 366.0,948.0 366.6,947.1 367.2,945.4 367.8,945.1 368.4,942.0 369.0,939.1 369.6,938.0 370.2,938.1 370.8,941.5 371.4,942.7 372.0,945.8 372.6,944.0 373.2,955.7 373.8,959.1 374.4,960.0 375.0,966.3 375.6,971.0 376.2,975.2 376.8,979.0 377.4,983.7 378.0,986.7 378.6,991.2 379.2,994.3 379.8,997.7 380.4,998.2 381.0,1000.4 381.6,1001.9 382.2,1003.8 382.8,1003.5 383.4,1005.0 384.0,1005.8 384.6,1006.2 385.2,1006.4 385.8,1006.6 386.4,1006.8 387.0,1007.2 387.6,1007.6 388.2,1007.1 388.8,1007.0 389.4,1007.5 390.0,1007.5 390.6,1007.2 391.2,1007.4 391.8,1007.7 392.4,1008.0 393.0,1007.5 393.6,1007.7 394.2,1008.2 394.8,1007.8 395.4,1008.3 396.0,1008.4 396.6,1008.3 397.2,1008.1 397.8,1008.3 398.4,1008.2 399.0,1008.4 399.6,1008.1 400.2,1008.6 400.8,1007.9 401.4,1008.3 402.0,1008.3 402.6,1008.5 403.2,1008.2 403.8,1008.5 404.4,1008.2 405.0,1008.5 405.6,1008.7 406.2,1008.3 406.8,1008.5 407.4,1008.2 408.0,1008.6 408.6,1008.6 409.2,1008.4 409.8,1008.2 410.4,1008.5 411.0,1008.6 411.6,1008.6 412.2,1008.6 412.8,1008.0 413.4,1008.3 414.0,1008.7 414.6,1008.2 415.2,1008.7 415.8,1008.8 416.4,1008.6 417.0,1008.7 417.6,1008.4 418.2,1008.2 418.8,1008.4 419.4,1008.4 420.0,1008.5 420.6,1008.6 421.2,1008.5 421.8,1008.5 422.4,1008.6 423.0,1008.5 423.6,1008.7 424.2,1008.6 424.8,1008.5 425.4,1008.5 426.0,1008.5 426.6,1008.7 427.2,1008.6 427.8,1008.4 428.4,1008.5 429.0,1008.5 429.6,1008.5 430.2,1008.7 430.8,1008.4 431.4,1008.6 432.0,1008.6 432.6,1008.5 433.2,1008.6 433.8,1008.6 434.4,1008.7 435.0,1008.6 435.6,1008.6 436.2,1008.4 436.8,1008.5 437.4,1008.7 438.0,1008.7 438.6,1008.6 439.2,1008.6 439.8,1008.7 440.4,1008.5 441.0,1008.6 441.6,1008.7 442.2,1008.7 442.8,1008.6 443.4,1008.5 444.0,1008.8 444.6,1008.7 445.2,1008.6 445.8,1008.7 446.4,1008.8 447.0,1008.5 447.6,1008.8 448.2,1008.8 448.8,1008.6 449.4,1008.8 450.0,1008.6 450.6,1008.8 451.2,1008.8 451.8,1008.8 452.4,1008.7 453.0,1008.8 453.6,1008.8 454.2,1008.7 454.8,1008.7 455.4,1008.8 456.0,1008.8 456.6,1008.8 457.2,1008.8 457.8,1008.8" fill="none" stroke="#222828" stroke-width="0.8"/>
<polyline points="352.8,988.1 353.4,986.8 354.0,982.3 354.6,986.5 355.2,981.0 355.8,984.9 356.4,968.7 357.0,965.7 357.6,956.9 358.2,968.1 358.8,957.5 359.4,946.3 360.0,945.7 360.6,949.4 361.2,943.0 361.8,926.8 362.4,931.8 363.0,934.5 363.6,933.5 364.2,922.0 364.8,920.9 365.4,930.9 366.0,929.8 366.6,924.8 367.2,931.6 367.8,933.0 368.4,937.3 369.0,933.4 369.6,915.5 370.2,917.3 370.8,933.2 371.4,927.3 372.0,931.6 372.6,937.5 373.2,944.6 373.8,948.5 374.4,960.3 375.0,961.1 375.6,969.4 376.2,975.1 376.8,977.8 377.4,982.7 378.0,981.8 378.6,986.9 379.2,992.3 379.8,996.2 380.4,999.7 381.0,994.7 381.6,999.2 382.2,997.4 382.8,998.3 383.4,999.8 384.0,1002.3 384.6,1001.9 385.2,1004.2 385.8,1001.1 386.4,1004.8 387.0,1005.2 387.6,1004.0 388.2,1004.9 388.8,1003.5 389.4,1002.9 390.0,1004.1 390.6,1004.0 391.2,1008.8 391.8,1004.6 392.4,1007.6 393.0,1005.8 393.6,1006.1 394.2,1006.8 394.8,1005.0 395.4,1007.2 396.0,1006.7 396.6,1004.7 397.2,1007.3 397.8,1007.4 398.4,1007.5 399.0,1008.8 399.6,1007.0 400.2,1008.0 400.8,1008.4 401.4,1007.0 402.0,1008.8 402.6,1006.7 403.2,1007.0 403.8,1008.5 404.4,1007.3 405.0,1008.1 405.6,1007.1 406.2,1008.3 406.8,1007.6 407.4,1008.6 408.0,1007.5 408.6,1008.7 409.2,1008.5 409.8,1008.6 410.4,1008.5 411.0,1008.6 411.6,1008.2 412.2,1007.8 412.8,1008.6 413.4,1008.3 414.0,1008.4 414.6,1008.7 415.2,1008.0 415.8,1008.4 416.4,1008.4 417.0,1008.3 417.6,1008.7 418.2,1008.5 418.8,1008.4 419.4,1008.3 420.0,1008.8 420.6,1008.4 421.2,1008.8 421.8,1008.7 422.4,1008.1 423.0,1008.3 423.6,1008.6 424.2,1008.7 424.8,1008.8 425.4,1008.8 426.0,1008.8 426.6,1008.5 427.2,1008.6 427.8,1008.8 428.4,1008.5 429.0,1008.8 429.6,1008.3 430.2,1008.8 430.8,1008.6 431.4,1008.2 432.0,1008.8 432.6,1008.7 433.2,1008.7 433.8,1008.4 434.4,1008.6 435.0,1008.8 435.6,1008.5 436.2,1008.0 436.8,1008.5 437.4,1008.5 438.0,1008.7 438.6,1008.6 439.2,1008.5 439.8,1008.5 440.4,1008.8 441.0,1008.5 441.6,1008.8 442.2,1008.6 442.8,1008.5 443.4,1008.8 444.0,1008.8 444.6,1008.6 445.2,1008.8 445.8,1008.5 446.4,1008.6 447.0,1008.8 447.6,1008.7 448.2,1008.6 448.8,1008.8 449.4,1008.8 450.0,1008.7 450.6,1008.6 451.2,1008.7 451.8,1008.8 452.4,1008.8 453.0,1008.8 453.6,1008.7 454.2,1008.7 454.8,1008.8 455.4,1008.8 456.0,1008.7 456.6,1008.8 457.2,1008.7 457.8,1008.8" fill="none" stroke="#151515" stroke-width="1.15" stroke-linejoin="round"/>
<line x1="352.5" y1="902.8" x2="352.5" y2="1008.8" stroke="#8a9090" stroke-width="0.8"/>
<line x1="352.5" y1="926.0" x2="352.5" y2="1008.8" stroke="#222" stroke-width="0.95"/>
<line x1="352.5" y1="1009.0" x2="459.1" y2="1009.0" stroke="#444" stroke-width="0.7"/>
<text transform="translate(350.9,1014.4) scale(0.8,1)" font-size="3.6" fill="#555" font-family="Liberation Sans, Arial, sans-serif">10<tspan dy="-1.5" font-size="2.2">0</tspan></text>
<text transform="translate(377.5,1014.4) scale(0.8,1)" font-size="3.6" fill="#555" font-family="Liberation Sans, Arial, sans-serif">10<tspan dy="-1.5" font-size="2.2">1</tspan></text>
<text transform="translate(405.2,1014.4) scale(0.8,1)" font-size="3.6" fill="#555" font-family="Liberation Sans, Arial, sans-serif">10<tspan dy="-1.5" font-size="2.2">2</tspan></text>
<text transform="translate(431.0,1014.4) scale(0.8,1)" font-size="3.6" fill="#555" font-family="Liberation Sans, Arial, sans-serif">10<tspan dy="-1.5" font-size="2.2">3</tspan></text>
<text transform="translate(456.9,1014.4) scale(0.8,1)" font-size="3.6" fill="#555" font-family="Liberation Sans, Arial, sans-serif">10<tspan dy="-1.5" font-size="2.2">4</tspan></text>
<polygon points="98.0,1141.2 98.0,1120.5 98.6,1120.1 99.2,1117.0 99.8,1117.1 100.4,1116.0 101.0,1111.2 101.6,1110.5 102.2,1108.7 102.8,1106.2 103.4,1100.4 104.0,1096.8 104.6,1091.7 105.2,1096.0 105.8,1087.8 106.4,1084.6 107.0,1079.1 107.6,1080.8 108.2,1074.9 108.8,1075.9 109.4,1071.8 110.0,1067.0 110.6,1065.9 111.2,1059.3 111.8,1058.4 112.4,1055.3 113.0,1051.1 113.6,1051.5 114.2,1049.3 114.8,1051.5 115.4,1038.6 116.0,1044.8 116.6,1047.9 117.2,1051.9 117.8,1051.0 118.4,1047.9 119.0,1044.6 119.6,1046.9 120.2,1052.7 120.8,1055.8 121.4,1054.3 122.0,1061.3 122.6,1062.3 123.2,1066.2 123.8,1072.4 124.4,1075.5 125.0,1078.6 125.6,1079.7 126.2,1084.0 126.8,1085.7 127.4,1091.0 128.0,1094.5 128.6,1099.3 129.2,1101.4 129.8,1101.1 130.4,1104.4 131.0,1106.3 131.6,1110.7 132.2,1115.1 132.8,1115.3 133.4,1113.4 134.0,1116.5 134.6,1117.7 135.2,1121.0 135.8,1121.6 136.4,1123.2 137.0,1125.9 137.6,1124.4 138.2,1125.6 138.8,1129.5 139.4,1129.0 140.0,1128.9 140.6,1128.8 141.2,1130.2 141.8,1130.3 142.4,1132.7 143.0,1133.1 143.6,1134.1 144.2,1133.7 144.8,1133.7 145.4,1134.1 146.0,1136.3 146.6,1134.3 147.2,1135.9 147.8,1136.2 148.4,1137.0 149.0,1136.8 149.6,1137.6 150.2,1137.9 150.8,1137.6 151.4,1137.6 152.0,1137.9 152.6,1137.6 153.2,1138.2 153.8,1138.3 154.4,1138.7 155.0,1139.3 155.6,1139.3 156.2,1138.7 156.8,1139.2 157.4,1139.2 158.0,1139.5 158.6,1139.3 159.2,1139.5 159.8,1139.3 160.4,1139.3 161.0,1140.0 161.6,1140.2 162.2,1140.1 162.8,1140.1 163.4,1140.1 164.0,1139.9 164.6,1139.5 165.2,1140.3 165.8,1140.2 166.4,1140.0 167.0,1139.9 167.6,1140.6 168.2,1139.7 168.8,1140.8 169.4,1140.5 170.0,1141.0 170.6,1140.2 171.2,1140.4 171.8,1140.3 172.4,1140.6 173.0,1140.5 173.6,1140.4 174.2,1140.9 174.8,1140.5 175.4,1140.6 176.0,1140.8 176.6,1140.6 177.2,1140.6 177.8,1140.8 178.4,1140.7 179.0,1140.5 179.6,1140.7 180.2,1140.7 180.8,1141.2 181.4,1140.6 182.0,1141.0 182.6,1140.7 183.2,1140.8 183.8,1140.8 184.4,1140.9 185.0,1141.0 185.6,1141.2 186.2,1140.8 186.8,1141.2 187.4,1141.0 188.0,1141.0 188.6,1140.8 189.2,1141.1 189.8,1140.9 190.4,1141.0 191.0,1140.9 191.6,1141.1 192.2,1141.1 192.8,1141.1 193.4,1141.0 194.0,1141.1 194.6,1141.2 195.2,1141.0 195.8,1141.2 196.4,1141.0 197.0,1141.1 197.6,1141.1 198.2,1141.2 198.8,1141.1 199.4,1141.1 200.0,1141.1 200.6,1141.1 201.2,1141.2 201.8,1141.2 202.4,1141.2 203.0,1141.2 203.6,1141.2 203.8,1141.2 203.8,1141.2" fill="#c6cfcf" stroke="none"/>
<polyline points="98.0,1120.5 98.6,1120.1 99.2,1117.0 99.8,1117.1 100.4,1116.0 101.0,1111.2 101.6,1110.5 102.2,1108.7 102.8,1106.2 103.4,1100.4 104.0,1096.8 104.6,1091.7 105.2,1096.0 105.8,1087.8 106.4,1084.6 107.0,1079.1 107.6,1080.8 108.2,1074.9 108.8,1075.9 109.4,1071.8 110.0,1067.0 110.6,1065.9 111.2,1059.3 111.8,1058.4 112.4,1055.3 113.0,1051.1 113.6,1051.5 114.2,1049.3 114.8,1051.5 115.4,1038.6 116.0,1044.8 116.6,1047.9 117.2,1051.9 117.8,1051.0 118.4,1047.9 119.0,1044.6 119.6,1046.9 120.2,1052.7 120.8,1055.8 121.4,1054.3 122.0,1061.3 122.6,1062.3 123.2,1066.2 123.8,1072.4 124.4,1075.5 125.0,1078.6 125.6,1079.7 126.2,1084.0 126.8,1085.7 127.4,1091.0 128.0,1094.5 128.6,1099.3 129.2,1101.4 129.8,1101.1 130.4,1104.4 131.0,1106.3 131.6,1110.7 132.2,1115.1 132.8,1115.3 133.4,1113.4 134.0,1116.5 134.6,1117.7 135.2,1121.0 135.8,1121.6 136.4,1123.2 137.0,1125.9 137.6,1124.4 138.2,1125.6 138.8,1129.5 139.4,1129.0 140.0,1128.9 140.6,1128.8 141.2,1130.2 141.8,1130.3 142.4,1132.7 143.0,1133.1 143.6,1134.1 144.2,1133.7 144.8,1133.7 145.4,1134.1 146.0,1136.3 146.6,1134.3 147.2,1135.9 147.8,1136.2 148.4,1137.0 149.0,1136.8 149.6,1137.6 150.2,1137.9 150.8,1137.6 151.4,1137.6 152.0,1137.9 152.6,1137.6 153.2,1138.2 153.8,1138.3 154.4,1138.7 155.0,1139.3 155.6,1139.3 156.2,1138.7 156.8,1139.2 157.4,1139.2 158.0,1139.5 158.6,1139.3 159.2,1139.5 159.8,1139.3 160.4,1139.3 161.0,1140.0 161.6,1140.2 162.2,1140.1 162.8,1140.1 163.4,1140.1 164.0,1139.9 164.6,1139.5 165.2,1140.3 165.8,1140.2 166.4,1140.0 167.0,1139.9 167.6,1140.6 168.2,1139.7 168.8,1140.8 169.4,1140.5 170.0,1141.0 170.6,1140.2 171.2,1140.4 171.8,1140.3 172.4,1140.6 173.0,1140.5 173.6,1140.4 174.2,1140.9 174.8,1140.5 175.4,1140.6 176.0,1140.8 176.6,1140.6 177.2,1140.6 177.8,1140.8 178.4,1140.7 179.0,1140.5 179.6,1140.7 180.2,1140.7 180.8,1141.2 181.4,1140.6 182.0,1141.0 182.6,1140.7 183.2,1140.8 183.8,1140.8 184.4,1140.9 185.0,1141.0 185.6,1141.2 186.2,1140.8 186.8,1141.2 187.4,1141.0 188.0,1141.0 188.6,1140.8 189.2,1141.1 189.8,1140.9 190.4,1141.0 191.0,1140.9 191.6,1141.1 192.2,1141.1 192.8,1141.1 193.4,1141.0 194.0,1141.1 194.6,1141.2 195.2,1141.0 195.8,1141.2 196.4,1141.0 197.0,1141.1 197.6,1141.1 198.2,1141.2 198.8,1141.1 199.4,1141.1 200.0,1141.1 200.6,1141.1 201.2,1141.2 201.8,1141.2 202.4,1141.2 203.0,1141.2 203.6,1141.2 203.8,1141.2" fill="none" stroke="#222828" stroke-width="0.8"/>
<polyline points="98.0,1063.6 98.6,1067.9 99.2,1073.9 99.8,1085.2 100.4,1086.1 101.0,1072.7 101.6,1059.5 102.2,1059.5 102.8,1058.2 103.4,1062.3 104.0,1059.2 104.6,1053.2 105.2,1064.5 105.8,1064.1 106.4,1055.5 107.0,1048.5 107.6,1047.0 108.2,1053.1 108.8,1056.0 109.4,1067.7 110.0,1069.9 110.6,1072.1 111.2,1084.0 111.8,1085.7 112.4,1089.9 113.0,1097.0 113.6,1094.6 114.2,1104.0 114.8,1110.0 115.4,1116.3 116.0,1116.2 116.6,1123.3 117.2,1125.2 117.8,1130.2 118.4,1131.6 119.0,1132.3 119.6,1136.3 120.2,1134.2 120.8,1134.5 121.4,1135.5 122.0,1135.8 122.6,1137.5 123.2,1135.9 123.8,1138.1 124.4,1139.0 125.0,1139.9 125.6,1139.0 126.2,1140.8 126.8,1139.3 127.4,1139.8 128.0,1138.6 128.6,1139.6 129.2,1139.7 129.8,1141.2 130.4,1140.8 131.0,1140.0 131.6,1141.0 132.2,1141.0 132.8,1140.6 133.4,1140.7 134.0,1140.5 134.6,1140.4 135.2,1139.7 135.8,1140.7 136.4,1141.2 137.0,1141.2 137.6,1140.6 138.2,1140.3 138.8,1140.6 139.4,1141.2 140.0,1140.9 140.6,1140.4 141.2,1141.0 141.8,1140.7 142.4,1141.0 143.0,1140.6 143.6,1140.0 144.2,1140.8 144.8,1141.2 145.4,1140.2 146.0,1140.7 146.6,1141.2 147.2,1140.6 147.8,1140.5 148.4,1141.2 149.0,1141.2 149.6,1141.2 150.2,1140.3 150.8,1141.2 151.4,1140.0 152.0,1140.6 152.6,1141.2 153.2,1141.2 153.8,1140.4 154.4,1140.5 155.0,1141.0 155.6,1139.9 156.2,1141.2 156.8,1141.2 157.4,1140.7 158.0,1141.2 158.6,1141.2 159.2,1141.0 159.8,1141.2 160.4,1141.2 161.0,1140.7 161.6,1141.0 162.2,1140.8 162.8,1141.1 163.4,1140.8 164.0,1141.0 164.6,1141.0 165.2,1140.9 165.8,1141.2 166.4,1140.9 167.0,1141.2 167.6,1141.1 168.2,1141.2 168.8,1140.9 169.4,1141.2 170.0,1141.1 170.6,1140.8 171.2,1141.0 171.8,1141.0 172.4,1141.0 173.0,1141.2 173.6,1140.9 174.2,1140.7 174.8,1140.7 175.4,1140.9 176.0,1140.9 176.6,1141.0 177.2,1141.1 177.8,1141.2 178.4,1141.1 179.0,1141.1 179.6,1140.9 180.2,1141.1 180.8,1141.2 181.4,1141.2 182.0,1140.7 182.6,1141.2 183.2,1141.2 183.8,1141.2 184.4,1140.8 185.0,1141.0 185.6,1141.2 186.2,1141.1 186.8,1141.0 187.4,1141.0 188.0,1141.2 188.6,1140.9 189.2,1141.2 189.8,1141.1 190.4,1141.2 191.0,1140.9 191.6,1141.0 192.2,1141.2 192.8,1141.0 193.4,1141.2 194.0,1141.0 194.6,1141.0 195.2,1141.2 195.8,1141.2 196.4,1141.2 197.0,1141.1 197.6,1141.1 198.2,1141.1 198.8,1141.1 199.4,1141.0 200.0,1141.2 200.6,1141.2 201.2,1141.2 201.8,1141.2 202.4,1141.2 203.0,1141.2 203.6,1141.2 203.8,1141.2" fill="none" stroke="#151515" stroke-width="1.15" stroke-linejoin="round"/>
<line x1="97.8" y1="1037.8" x2="97.8" y2="1141.2" stroke="#8a9090" stroke-width="0.8"/>
<line x1="97.8" y1="1062.3" x2="97.8" y2="1141.2" stroke="#222" stroke-width="0.95"/>
<line x1="97.8" y1="1141.4" x2="205.1" y2="1141.4" stroke="#444" stroke-width="0.7"/>
<text transform="translate(96.1,1146.8) scale(0.8,1)" font-size="3.6" fill="#555" font-family="Liberation Sans, Arial, sans-serif">10<tspan dy="-1.5" font-size="2.2">0</tspan></text>
<text transform="translate(122.7,1146.8) scale(0.8,1)" font-size="3.6" fill="#555" font-family="Liberation Sans, Arial, sans-serif">10<tspan dy="-1.5" font-size="2.2">1</tspan></text>
<text transform="translate(149.9,1146.8) scale(0.8,1)" font-size="3.6" fill="#555" font-family="Liberation Sans, Arial, sans-serif">10<tspan dy="-1.5" font-size="2.2">2</tspan></text>
<text transform="translate(177.0,1146.8) scale(0.8,1)" font-size="3.6" fill="#555" font-family="Liberation Sans, Arial, sans-serif">10<tspan dy="-1.5" font-size="2.2">3</tspan></text>
<text transform="translate(202.9,1146.8) scale(0.8,1)" font-size="3.6" fill="#555" font-family="Liberation Sans, Arial, sans-serif">10<tspan dy="-1.5" font-size="2.2">4</tspan></text>
<polygon points="225.6,1141.2 225.6,1110.2 226.2,1110.0 226.8,1104.3 227.4,1105.4 228.0,1100.0 228.6,1097.7 229.2,1097.2 229.8,1089.5 230.4,1087.7 231.0,1083.4 231.6,1083.9 232.2,1078.1 232.8,1074.5 233.4,1076.4 234.0,1072.5 234.6,1070.3 235.2,1070.8 235.8,1064.3 236.4,1062.7 237.0,1061.3 237.6,1060.6 238.2,1057.3 238.8,1059.4 239.4,1063.1 240.0,1058.5 240.6,1064.5 241.2,1058.3 241.8,1068.6 242.4,1068.0 243.0,1072.2 243.6,1075.5 244.2,1079.3 244.8,1082.6 245.4,1089.3 246.0,1097.2 246.6,1102.0 247.2,1105.0 247.8,1110.1 248.4,1115.2 249.0,1119.0 249.6,1125.9 250.2,1128.4 250.8,1131.2 251.4,1132.3 252.0,1133.5 252.6,1136.4 253.2,1137.6 253.8,1137.3 254.4,1138.6 255.0,1138.1 255.6,1139.3 256.2,1139.2 256.8,1139.6 257.4,1139.9 258.0,1140.0 258.6,1140.2 259.2,1139.7 259.8,1140.5 260.4,1140.5 261.0,1140.1 261.6,1140.3 262.2,1140.0 262.8,1140.3 263.4,1140.0 264.0,1140.4 264.6,1140.5 265.2,1140.9 265.8,1140.8 266.4,1140.8 267.0,1140.6 267.6,1140.6 268.2,1140.6 268.8,1140.8 269.4,1140.3 270.0,1140.9 270.6,1140.4 271.2,1140.6 271.8,1140.7 272.4,1140.6 273.0,1141.1 273.6,1140.7 274.2,1141.1 274.8,1141.0 275.4,1140.7 276.0,1140.9 276.6,1141.0 277.2,1140.7 277.8,1140.8 278.4,1140.7 279.0,1140.8 279.6,1140.7 280.2,1140.8 280.8,1141.0 281.4,1141.1 282.0,1140.8 282.6,1140.9 283.2,1141.0 283.8,1140.8 284.4,1140.6 285.0,1141.1 285.6,1140.7 286.2,1141.0 286.8,1140.7 287.4,1141.2 288.0,1140.7 288.6,1141.0 289.2,1141.2 289.8,1140.7 290.4,1141.2 291.0,1140.7 291.6,1140.6 292.2,1141.0 292.8,1141.0 293.4,1140.9 294.0,1140.6 294.6,1140.9 295.2,1140.9 295.8,1140.9 296.4,1140.9 297.0,1140.7 297.6,1140.9 298.2,1141.2 298.8,1141.1 299.4,1140.9 300.0,1140.9 300.6,1141.0 301.2,1141.1 301.8,1141.1 302.4,1140.9 303.0,1141.0 303.6,1141.0 304.2,1141.2 304.8,1141.1 305.4,1141.1 306.0,1141.1 306.6,1141.0 307.2,1141.2 307.8,1141.0 308.4,1141.1 309.0,1141.1 309.6,1141.0 310.2,1141.0 310.8,1140.9 311.4,1141.1 312.0,1141.1 312.6,1141.0 313.2,1141.1 313.8,1140.9 314.4,1141.1 315.0,1141.1 315.6,1141.1 316.2,1141.2 316.8,1141.2 317.4,1141.1 318.0,1141.1 318.6,1141.1 319.2,1141.1 319.8,1141.2 320.4,1141.1 321.0,1141.2 321.6,1141.1 322.2,1141.2 322.8,1141.2 323.4,1141.2 324.0,1141.2 324.6,1141.2 325.2,1141.2 325.8,1141.2 326.4,1141.2 327.0,1141.2 327.6,1141.2 328.2,1141.2 328.8,1141.2 328.8,1141.2" fill="#c6cfcf" stroke="none"/>
<polyline points="225.6,1110.2 226.2,1110.0 226.8,1104.3 227.4,1105.4 228.0,1100.0 228.6,1097.7 229.2,1097.2 229.8,1089.5 230.4,1087.7 231.0,1083.4 231.6,1083.9 232.2,1078.1 232.8,1074.5 233.4,1076.4 234.0,1072.5 234.6,1070.3 235.2,1070.8 235.8,1064.3 236.4,1062.7 237.0,1061.3 237.6,1060.6 238.2,1057.3 238.8,1059.4 239.4,1063.1 240.0,1058.5 240.6,1064.5 241.2,1058.3 241.8,1068.6 242.4,1068.0 243.0,1072.2 243.6,1075.5 244.2,1079.3 244.8,1082.6 245.4,1089.3 246.0,1097.2 246.6,1102.0 247.2,1105.0 247.8,1110.1 248.4,1115.2 249.0,1119.0 249.6,1125.9 250.2,1128.4 250.8,1131.2 251.4,1132.3 252.0,1133.5 252.6,1136.4 253.2,1137.6 253.8,1137.3 254.4,1138.6 255.0,1138.1 255.6,1139.3 256.2,1139.2 256.8,1139.6 257.4,1139.9 258.0,1140.0 258.6,1140.2 259.2,1139.7 259.8,1140.5 260.4,1140.5 261.0,1140.1 261.6,1140.3 262.2,1140.0 262.8,1140.3 263.4,1140.0 264.0,1140.4 264.6,1140.5 265.2,1140.9 265.8,1140.8 266.4,1140.8 267.0,1140.6 267.6,1140.6 268.2,1140.6 268.8,1140.8 269.4,1140.3 270.0,1140.9 270.6,1140.4 271.2,1140.6 271.8,1140.7 272.4,1140.6 273.0,1141.1 273.6,1140.7 274.2,1141.1 274.8,1141.0 275.4,1140.7 276.0,1140.9 276.6,1141.0 277.2,1140.7 277.8,1140.8 278.4,1140.7 279.0,1140.8 279.6,1140.7 280.2,1140.8 280.8,1141.0 281.4,1141.1 282.0,1140.8 282.6,1140.9 283.2,1141.0 283.8,1140.8 284.4,1140.6 285.0,1141.1 285.6,1140.7 286.2,1141.0 286.8,1140.7 287.4,1141.2 288.0,1140.7 288.6,1141.0 289.2,1141.2 289.8,1140.7 290.4,1141.2 291.0,1140.7 291.6,1140.6 292.2,1141.0 292.8,1141.0 293.4,1140.9 294.0,1140.6 294.6,1140.9 295.2,1140.9 295.8,1140.9 296.4,1140.9 297.0,1140.7 297.6,1140.9 298.2,1141.2 298.8,1141.1 299.4,1140.9 300.0,1140.9 300.6,1141.0 301.2,1141.1 301.8,1141.1 302.4,1140.9 303.0,1141.0 303.6,1141.0 304.2,1141.2 304.8,1141.1 305.4,1141.1 306.0,1141.1 306.6,1141.0 307.2,1141.2 307.8,1141.0 308.4,1141.1 309.0,1141.1 309.6,1141.0 310.2,1141.0 310.8,1140.9 311.4,1141.1 312.0,1141.1 312.6,1141.0 313.2,1141.1 313.8,1140.9 314.4,1141.1 315.0,1141.1 315.6,1141.1 316.2,1141.2 316.8,1141.2 317.4,1141.1 318.0,1141.1 318.6,1141.1 319.2,1141.1 319.8,1141.2 320.4,1141.1 321.0,1141.2 321.6,1141.1 322.2,1141.2 322.8,1141.2 323.4,1141.2 324.0,1141.2 324.6,1141.2 325.2,1141.2 325.8,1141.2 326.4,1141.2 327.0,1141.2 327.6,1141.2 328.2,1141.2 328.8,1141.2" fill="none" stroke="#222828" stroke-width="0.8"/>
<polyline points="225.6,1112.8 226.2,1112.0 226.8,1111.6 227.4,1110.3 228.0,1111.6 228.6,1105.2 229.2,1088.6 229.8,1096.2 230.4,1092.0 231.0,1087.1 231.6,1081.6 232.2,1077.6 232.8,1077.1 233.4,1080.3 234.0,1074.4 234.6,1077.3 235.2,1057.7 235.8,1059.9 236.4,1052.9 237.0,1056.0 237.6,1055.5 238.2,1057.6 238.8,1061.1 239.4,1058.4 240.0,1062.8 240.6,1054.7 241.2,1052.7 241.8,1056.2 242.4,1063.2 243.0,1061.9 243.6,1080.8 244.2,1079.1 244.8,1084.2 245.4,1096.4 246.0,1096.0 246.6,1097.8 247.2,1104.8 247.8,1109.8 248.4,1114.5 249.0,1121.3 249.6,1127.1 250.2,1129.0 250.8,1129.3 251.4,1137.7 252.0,1133.6 252.6,1136.1 253.2,1137.1 253.8,1138.9 254.4,1138.0 255.0,1139.0 255.6,1140.7 256.2,1139.2 256.8,1138.4 257.4,1139.8 258.0,1139.2 258.6,1139.8 259.2,1140.3 259.8,1140.4 260.4,1140.0 261.0,1140.8 261.6,1140.1 262.2,1139.3 262.8,1140.8 263.4,1140.0 264.0,1141.1 264.6,1139.8 265.2,1140.6 265.8,1140.5 266.4,1138.5 267.0,1139.3 267.6,1139.6 268.2,1141.2 268.8,1139.1 269.4,1140.9 270.0,1141.0 270.6,1140.7 271.2,1140.8 271.8,1140.0 272.4,1140.4 273.0,1140.5 273.6,1140.7 274.2,1140.8 274.8,1140.3 275.4,1140.0 276.0,1140.1 276.6,1140.7 277.2,1139.4 277.8,1139.7 278.4,1140.2 279.0,1140.1 279.6,1140.3 280.2,1138.9 280.8,1140.3 281.4,1140.4 282.0,1141.0 282.6,1139.3 283.2,1140.3 283.8,1140.8 284.4,1140.8 285.0,1141.2 285.6,1141.2 286.2,1140.0 286.8,1141.0 287.4,1140.4 288.0,1140.1 288.6,1141.2 289.2,1140.3 289.8,1140.1 290.4,1140.4 291.0,1140.2 291.6,1141.2 292.2,1140.9 292.8,1141.2 293.4,1140.9 294.0,1140.3 294.6,1141.2 295.2,1140.3 295.8,1140.5 296.4,1140.6 297.0,1140.8 297.6,1141.2 298.2,1140.4 298.8,1141.0 299.4,1140.8 300.0,1140.1 300.6,1140.2 301.2,1140.7 301.8,1141.0 302.4,1141.0 303.0,1141.1 303.6,1140.9 304.2,1140.6 304.8,1141.1 305.4,1140.4 306.0,1140.2 306.6,1140.7 307.2,1140.2 307.8,1140.6 308.4,1140.5 309.0,1140.8 309.6,1140.9 310.2,1140.8 310.8,1140.8 311.4,1140.6 312.0,1141.0 312.6,1140.8 313.2,1141.1 313.8,1140.4 314.4,1140.8 315.0,1141.0 315.6,1140.6 316.2,1141.0 316.8,1141.0 317.4,1141.1 318.0,1140.8 318.6,1141.1 319.2,1141.1 319.8,1140.9 320.4,1141.2 321.0,1141.1 321.6,1141.1 322.2,1141.1 322.8,1141.2 323.4,1141.1 324.0,1141.2 324.6,1141.2 325.2,1141.1 325.8,1141.1 326.4,1141.2 327.0,1141.2 327.6,1141.2 328.2,1141.2 328.8,1141.2" fill="none" stroke="#151515" stroke-width="1.15" stroke-linejoin="round"/>
<line x1="225.3" y1="1037.8" x2="225.3" y2="1141.2" stroke="#8a9090" stroke-width="0.8"/>
<line x1="225.3" y1="1037.8" x2="225.3" y2="1141.2" stroke="#222" stroke-width="0.95"/>
<line x1="225.3" y1="1141.4" x2="331.4" y2="1141.4" stroke="#444" stroke-width="0.7"/>
<text transform="translate(223.9,1146.8) scale(0.8,1)" font-size="3.6" fill="#555" font-family="Liberation Sans, Arial, sans-serif">10<tspan dy="-1.5" font-size="2.2">0</tspan></text>
<text transform="translate(251.1,1146.8) scale(0.8,1)" font-size="3.6" fill="#555" font-family="Liberation Sans, Arial, sans-serif">10<tspan dy="-1.5" font-size="2.2">1</tspan></text>
<text transform="translate(277.5,1146.8) scale(0.8,1)" font-size="3.6" fill="#555" font-family="Liberation Sans, Arial, sans-serif">10<tspan dy="-1.5" font-size="2.2">2</tspan></text>
<text transform="translate(303.8,1146.8) scale(0.8,1)" font-size="3.6" fill="#555" font-family="Liberation Sans, Arial, sans-serif">10<tspan dy="-1.5" font-size="2.2">3</tspan></text>
<text transform="translate(330.5,1146.8) scale(0.8,1)" font-size="3.6" fill="#555" font-family="Liberation Sans, Arial, sans-serif">10<tspan dy="-1.5" font-size="2.2">4</tspan></text>
<polygon points="351.5,1142.5 351.5,1117.9 352.1,1113.4 352.7,1106.1 353.3,1105.3 353.9,1101.4 354.5,1097.3 355.1,1092.2 355.7,1092.6 356.3,1087.2 356.9,1083.7 357.5,1080.9 358.1,1080.4 358.7,1075.0 359.3,1072.6 359.9,1076.0 360.5,1072.3 361.1,1069.6 361.7,1068.0 362.3,1064.5 362.9,1058.5 363.5,1063.6 364.1,1062.6 364.7,1060.4 365.3,1054.7 365.9,1061.2 366.5,1063.6 367.1,1062.2 367.7,1066.1 368.3,1071.6 368.9,1074.3 369.5,1081.1 370.1,1084.0 370.7,1090.3 371.3,1094.4 371.9,1097.2 372.5,1102.4 373.1,1112.7 373.7,1112.8 374.3,1118.4 374.9,1122.3 375.5,1127.1 376.1,1128.6 376.7,1130.2 377.3,1133.4 377.9,1133.9 378.5,1136.1 379.1,1137.8 379.7,1137.1 380.3,1139.3 380.9,1139.8 381.5,1140.3 382.1,1139.5 382.7,1139.9 383.3,1139.6 383.9,1140.2 384.5,1141.0 385.1,1141.8 385.7,1140.8 386.3,1141.7 386.9,1141.4 387.5,1141.1 388.1,1142.0 388.7,1140.5 389.3,1141.3 389.9,1141.4 390.5,1142.0 391.1,1141.9 391.7,1142.0 392.3,1141.4 392.9,1141.6 393.5,1141.8 394.1,1141.5 394.7,1141.5 395.3,1141.3 395.9,1141.3 396.5,1141.0 397.1,1142.0 397.7,1141.3 398.3,1140.8 398.9,1141.5 399.5,1141.4 400.1,1141.5 400.7,1142.0 401.3,1141.5 401.9,1141.4 402.5,1141.3 403.1,1141.5 403.7,1141.4 404.3,1141.6 404.9,1142.4 405.5,1141.7 406.1,1141.3 406.7,1142.1 407.3,1141.8 407.9,1141.8 408.5,1141.8 409.1,1141.9 409.7,1141.8 410.3,1142.0 410.9,1141.9 411.5,1142.0 412.1,1141.5 412.7,1141.7 413.3,1141.5 413.9,1142.0 414.5,1141.9 415.1,1141.6 415.7,1141.9 416.3,1142.4 416.9,1142.1 417.5,1141.5 418.1,1141.8 418.7,1142.0 419.3,1141.8 419.9,1141.9 420.5,1142.1 421.1,1141.9 421.7,1141.6 422.3,1142.0 422.9,1141.9 423.5,1141.9 424.1,1141.8 424.7,1141.6 425.3,1141.6 425.9,1141.8 426.5,1141.7 427.1,1141.3 427.7,1142.2 428.3,1141.7 428.9,1141.8 429.5,1142.1 430.1,1141.5 430.7,1142.3 431.3,1141.9 431.9,1142.2 432.5,1141.9 433.1,1142.1 433.7,1142.1 434.3,1142.1 434.9,1141.7 435.5,1141.8 436.1,1142.1 436.7,1142.4 437.3,1142.0 437.9,1142.3 438.5,1142.2 439.1,1142.3 439.7,1142.4 440.3,1141.9 440.9,1142.2 441.5,1142.2 442.1,1142.2 442.7,1142.1 443.3,1142.1 443.9,1142.1 444.5,1142.1 445.1,1142.5 445.7,1142.5 446.3,1142.3 446.9,1142.4 447.5,1142.2 448.1,1142.1 448.7,1142.2 449.3,1142.4 449.9,1142.5 450.5,1142.4 451.1,1142.3 451.7,1142.4 452.3,1142.3 452.9,1142.3 453.5,1142.4 454.1,1142.4 454.7,1142.4 455.3,1142.4 455.9,1142.4 456.5,1142.5 457.1,1142.5 457.7,1142.5 457.8,1142.5 457.8,1142.5" fill="#c6cfcf" stroke="none"/>
<polyline points="351.5,1117.9 352.1,1113.4 352.7,1106.1 353.3,1105.3 353.9,1101.4 354.5,1097.3 355.1,1092.2 355.7,1092.6 356.3,1087.2 356.9,1083.7 357.5,1080.9 358.1,1080.4 358.7,1075.0 359.3,1072.6 359.9,1076.0 360.5,1072.3 361.1,1069.6 361.7,1068.0 362.3,1064.5 362.9,1058.5 363.5,1063.6 364.1,1062.6 364.7,1060.4 365.3,1054.7 365.9,1061.2 366.5,1063.6 367.1,1062.2 367.7,1066.1 368.3,1071.6 368.9,1074.3 369.5,1081.1 370.1,1084.0 370.7,1090.3 371.3,1094.4 371.9,1097.2 372.5,1102.4 373.1,1112.7 373.7,1112.8 374.3,1118.4 374.9,1122.3 375.5,1127.1 376.1,1128.6 376.7,1130.2 377.3,1133.4 377.9,1133.9 378.5,1136.1 379.1,1137.8 379.7,1137.1 380.3,1139.3 380.9,1139.8 381.5,1140.3 382.1,1139.5 382.7,1139.9 383.3,1139.6 383.9,1140.2 384.5,1141.0 385.1,1141.8 385.7,1140.8 386.3,1141.7 386.9,1141.4 387.5,1141.1 388.1,1142.0 388.7,1140.5 389.3,1141.3 389.9,1141.4 390.5,1142.0 391.1,1141.9 391.7,1142.0 392.3,1141.4 392.9,1141.6 393.5,1141.8 394.1,1141.5 394.7,1141.5 395.3,1141.3 395.9,1141.3 396.5,1141.0 397.1,1142.0 397.7,1141.3 398.3,1140.8 398.9,1141.5 399.5,1141.4 400.1,1141.5 400.7,1142.0 401.3,1141.5 401.9,1141.4 402.5,1141.3 403.1,1141.5 403.7,1141.4 404.3,1141.6 404.9,1142.4 405.5,1141.7 406.1,1141.3 406.7,1142.1 407.3,1141.8 407.9,1141.8 408.5,1141.8 409.1,1141.9 409.7,1141.8 410.3,1142.0 410.9,1141.9 411.5,1142.0 412.1,1141.5 412.7,1141.7 413.3,1141.5 413.9,1142.0 414.5,1141.9 415.1,1141.6 415.7,1141.9 416.3,1142.4 416.9,1142.1 417.5,1141.5 418.1,1141.8 418.7,1142.0 419.3,1141.8 419.9,1141.9 420.5,1142.1 421.1,1141.9 421.7,1141.6 422.3,1142.0 422.9,1141.9 423.5,1141.9 424.1,1141.8 424.7,1141.6 425.3,1141.6 425.9,1141.8 426.5,1141.7 427.1,1141.3 427.7,1142.2 428.3,1141.7 428.9,1141.8 429.5,1142.1 430.1,1141.5 430.7,1142.3 431.3,1141.9 431.9,1142.2 432.5,1141.9 433.1,1142.1 433.7,1142.1 434.3,1142.1 434.9,1141.7 435.5,1141.8 436.1,1142.1 436.7,1142.4 437.3,1142.0 437.9,1142.3 438.5,1142.2 439.1,1142.3 439.7,1142.4 440.3,1141.9 440.9,1142.2 441.5,1142.2 442.1,1142.2 442.7,1142.1 443.3,1142.1 443.9,1142.1 444.5,1142.1 445.1,1142.5 445.7,1142.5 446.3,1142.3 446.9,1142.4 447.5,1142.2 448.1,1142.1 448.7,1142.2 449.3,1142.4 449.9,1142.5 450.5,1142.4 451.1,1142.3 451.7,1142.4 452.3,1142.3 452.9,1142.3 453.5,1142.4 454.1,1142.4 454.7,1142.4 455.3,1142.4 455.9,1142.4 456.5,1142.5 457.1,1142.5 457.7,1142.5 457.8,1142.5" fill="none" stroke="#222828" stroke-width="0.8"/>
<polyline points="351.5,1107.6 352.1,1110.4 352.7,1095.5 353.3,1103.2 353.9,1100.8 354.5,1096.1 355.1,1088.2 355.7,1079.5 356.3,1080.2 356.9,1077.0 357.5,1071.1 358.1,1071.4 358.7,1074.4 359.3,1073.1 359.9,1076.1 360.5,1073.3 361.1,1059.1 361.7,1068.6 362.3,1070.6 362.9,1052.2 363.5,1055.2 364.1,1052.2 364.7,1046.0 365.3,1061.7 365.9,1061.3 366.5,1057.0 367.1,1058.4 367.7,1064.4 368.3,1073.2 368.9,1080.7 369.5,1088.4 370.1,1090.2 370.7,1097.5 371.3,1103.7 371.9,1099.2 372.5,1116.1 373.1,1113.3 373.7,1115.5 374.3,1117.8 374.9,1125.3 375.5,1127.4 376.1,1128.9 376.7,1131.1 377.3,1131.9 377.9,1133.7 378.5,1136.2 379.1,1136.7 379.7,1138.8 380.3,1138.4 380.9,1139.2 381.5,1140.0 382.1,1141.3 382.7,1141.1 383.3,1140.9 383.9,1140.6 384.5,1140.1 385.1,1140.5 385.7,1141.3 386.3,1141.0 386.9,1140.5 387.5,1139.7 388.1,1139.6 388.7,1141.1 389.3,1141.7 389.9,1141.2 390.5,1139.8 391.1,1140.7 391.7,1141.1 392.3,1140.2 392.9,1141.2 393.5,1140.8 394.1,1140.3 394.7,1140.0 395.3,1141.6 395.9,1141.3 396.5,1140.3 397.1,1140.3 397.7,1141.7 398.3,1141.5 398.9,1140.8 399.5,1142.3 400.1,1140.9 400.7,1140.3 401.3,1142.0 401.9,1141.0 402.5,1141.4 403.1,1141.2 403.7,1140.4 404.3,1140.3 404.9,1141.1 405.5,1142.3 406.1,1140.5 406.7,1142.3 407.3,1141.4 407.9,1140.5 408.5,1141.5 409.1,1141.7 409.7,1140.7 410.3,1139.8 410.9,1141.6 411.5,1140.6 412.1,1141.7 412.7,1140.1 413.3,1141.3 413.9,1140.9 414.5,1140.4 415.1,1141.3 415.7,1141.6 416.3,1141.1 416.9,1140.7 417.5,1141.7 418.1,1140.4 418.7,1141.9 419.3,1141.9 419.9,1142.5 420.5,1142.2 421.1,1141.8 421.7,1141.8 422.3,1141.7 422.9,1140.8 423.5,1142.5 424.1,1142.0 424.7,1141.5 425.3,1141.0 425.9,1142.5 426.5,1142.1 427.1,1141.0 427.7,1142.2 428.3,1142.5 428.9,1141.8 429.5,1142.1 430.1,1141.6 430.7,1141.5 431.3,1142.5 431.9,1142.5 432.5,1142.0 433.1,1141.8 433.7,1142.4 434.3,1141.8 434.9,1142.4 435.5,1142.4 436.1,1141.4 436.7,1141.4 437.3,1142.0 437.9,1142.5 438.5,1142.2 439.1,1142.5 439.7,1141.3 440.3,1142.3 440.9,1141.8 441.5,1142.2 442.1,1142.3 442.7,1141.6 443.3,1142.0 443.9,1141.6 444.5,1142.3 445.1,1141.8 445.7,1142.1 446.3,1142.3 446.9,1142.1 447.5,1142.5 448.1,1142.1 448.7,1142.4 449.3,1142.3 449.9,1142.1 450.5,1142.3 451.1,1142.2 451.7,1142.3 452.3,1142.3 452.9,1142.5 453.5,1142.3 454.1,1142.5 454.7,1142.5 455.3,1142.3 455.9,1142.2 456.5,1142.5 457.1,1142.4 457.7,1142.5 457.8,1142.5" fill="none" stroke="#151515" stroke-width="1.15" stroke-linejoin="round"/>
<line x1="351.2" y1="1037.8" x2="351.2" y2="1142.5" stroke="#8a9090" stroke-width="0.8"/>
<line x1="351.2" y1="1037.8" x2="351.2" y2="1142.5" stroke="#222" stroke-width="0.95"/>
<line x1="351.2" y1="1142.7" x2="459.1" y2="1142.7" stroke="#444" stroke-width="0.7"/>
<text transform="translate(349.6,1147.6) scale(0.8,1)" font-size="3.6" fill="#555" font-family="Liberation Sans, Arial, sans-serif">10<tspan dy="-1.5" font-size="2.2">0</tspan></text>
<text transform="translate(376.7,1147.6) scale(0.8,1)" font-size="3.6" fill="#555" font-family="Liberation Sans, Arial, sans-serif">10<tspan dy="-1.5" font-size="2.2">1</tspan></text>
<text transform="translate(403.9,1147.6) scale(0.8,1)" font-size="3.6" fill="#555" font-family="Liberation Sans, Arial, sans-serif">10<tspan dy="-1.5" font-size="2.2">2</tspan></text>
<text transform="translate(431.0,1147.6) scale(0.8,1)" font-size="3.6" fill="#555" font-family="Liberation Sans, Arial, sans-serif">10<tspan dy="-1.5" font-size="2.2">3</tspan></text>
<text transform="translate(456.9,1147.6) scale(0.8,1)" font-size="3.6" fill="#555" font-family="Liberation Sans, Arial, sans-serif">10<tspan dy="-1.5" font-size="2.2">4</tspan></text>
<polygon points="99.3,1270.1 99.3,1264.9 99.9,1264.8 100.5,1264.3 101.1,1263.9 101.7,1263.5 102.3,1263.0 102.9,1262.3 103.5,1261.6 104.1,1261.0 104.7,1260.6 105.3,1259.2 105.9,1258.6 106.5,1257.3 107.1,1256.3 107.7,1254.9 108.3,1254.1 108.9,1253.2 109.5,1251.8 110.1,1250.0 110.7,1248.9 111.3,1247.1 111.9,1245.8 112.5,1243.8 113.1,1241.8 113.7,1238.4 114.3,1236.8 114.9,1235.5 115.5,1232.6 116.1,1231.4 116.7,1227.8 117.3,1225.1 117.9,1223.2 118.5,1219.7 119.1,1217.4 119.7,1213.6 120.3,1210.2 120.9,1207.8 121.5,1204.2 122.1,1201.7 122.7,1199.0 123.3,1196.8 123.9,1195.3 124.5,1192.3 125.1,1191.1 125.7,1189.5 126.3,1189.4 126.9,1186.4 127.5,1188.6 128.1,1189.4 128.7,1189.1 129.3,1192.2 129.9,1193.5 130.5,1196.1 131.1,1198.4 131.7,1201.6 132.3,1204.6 132.9,1207.4 133.5,1211.4 134.1,1214.7 134.7,1218.3 135.3,1221.0 135.9,1225.8 136.5,1226.4 137.1,1231.1 137.7,1233.7 138.3,1237.2 138.9,1240.9 139.5,1243.5 140.1,1246.0 140.7,1249.5 141.3,1251.9 141.9,1253.9 142.5,1257.2 143.1,1258.5 143.7,1260.3 144.3,1262.3 144.9,1263.8 145.5,1264.6 146.1,1266.0 146.7,1266.5 147.3,1267.2 147.9,1267.8 148.5,1268.1 149.1,1268.1 149.7,1268.5 150.3,1268.9 150.9,1269.6 151.5,1269.3 152.1,1269.4 152.7,1269.4 153.3,1269.6 153.9,1269.6 154.5,1269.8 155.1,1269.7 155.7,1269.9 156.3,1269.7 156.9,1269.8 157.5,1269.8 158.1,1269.8 158.7,1269.8 159.3,1269.8 159.9,1269.8 160.5,1269.8 161.1,1269.9 161.7,1269.9 162.3,1269.9 162.9,1269.9 163.5,1269.9 164.1,1269.9 164.7,1269.8 165.3,1269.9 165.9,1269.9 166.5,1269.9 167.1,1269.9 167.7,1270.0 168.3,1269.9 168.9,1269.9 169.5,1269.9 170.1,1269.9 170.7,1269.9 171.3,1269.9 171.9,1269.9 172.5,1269.9 173.1,1269.9 173.7,1269.9 174.3,1269.9 174.9,1269.9 175.5,1269.9 176.1,1270.0 176.7,1269.9 177.3,1269.9 177.9,1270.0 178.5,1270.0 179.1,1270.0 179.7,1270.0 180.3,1270.0 180.9,1270.0 181.5,1269.9 182.1,1270.0 182.7,1270.0 183.3,1270.0 183.9,1269.9 184.5,1270.0 185.1,1270.0 185.7,1270.0 186.3,1270.0 186.9,1270.0 187.5,1270.0 188.1,1270.0 188.7,1270.0 189.3,1270.0 189.9,1270.0 190.5,1270.0 191.1,1270.0 191.7,1270.0 192.3,1270.0 192.9,1270.0 193.5,1270.0 194.1,1270.0 194.7,1270.0 195.3,1270.0 195.9,1270.0 196.5,1270.1 197.1,1270.1 197.7,1270.1 198.3,1270.0 198.9,1270.0 199.5,1270.1 200.1,1270.1 200.7,1270.1 201.3,1270.1 201.9,1270.1 202.5,1270.1 203.1,1270.1 203.7,1270.1 203.8,1270.1 203.8,1270.1" fill="#c6cfcf" stroke="none"/>
<polyline points="99.3,1264.9 99.9,1264.8 100.5,1264.3 101.1,1263.9 101.7,1263.5 102.3,1263.0 102.9,1262.3 103.5,1261.6 104.1,1261.0 104.7,1260.6 105.3,1259.2 105.9,1258.6 106.5,1257.3 107.1,1256.3 107.7,1254.9 108.3,1254.1 108.9,1253.2 109.5,1251.8 110.1,1250.0 110.7,1248.9 111.3,1247.1 111.9,1245.8 112.5,1243.8 113.1,1241.8 113.7,1238.4 114.3,1236.8 114.9,1235.5 115.5,1232.6 116.1,1231.4 116.7,1227.8 117.3,1225.1 117.9,1223.2 118.5,1219.7 119.1,1217.4 119.7,1213.6 120.3,1210.2 120.9,1207.8 121.5,1204.2 122.1,1201.7 122.7,1199.0 123.3,1196.8 123.9,1195.3 124.5,1192.3 125.1,1191.1 125.7,1189.5 126.3,1189.4 126.9,1186.4 127.5,1188.6 128.1,1189.4 128.7,1189.1 129.3,1192.2 129.9,1193.5 130.5,1196.1 131.1,1198.4 131.7,1201.6 132.3,1204.6 132.9,1207.4 133.5,1211.4 134.1,1214.7 134.7,1218.3 135.3,1221.0 135.9,1225.8 136.5,1226.4 137.1,1231.1 137.7,1233.7 138.3,1237.2 138.9,1240.9 139.5,1243.5 140.1,1246.0 140.7,1249.5 141.3,1251.9 141.9,1253.9 142.5,1257.2 143.1,1258.5 143.7,1260.3 144.3,1262.3 144.9,1263.8 145.5,1264.6 146.1,1266.0 146.7,1266.5 147.3,1267.2 147.9,1267.8 148.5,1268.1 149.1,1268.1 149.7,1268.5 150.3,1268.9 150.9,1269.6 151.5,1269.3 152.1,1269.4 152.7,1269.4 153.3,1269.6 153.9,1269.6 154.5,1269.8 155.1,1269.7 155.7,1269.9 156.3,1269.7 156.9,1269.8 157.5,1269.8 158.1,1269.8 158.7,1269.8 159.3,1269.8 159.9,1269.8 160.5,1269.8 161.1,1269.9 161.7,1269.9 162.3,1269.9 162.9,1269.9 163.5,1269.9 164.1,1269.9 164.7,1269.8 165.3,1269.9 165.9,1269.9 166.5,1269.9 167.1,1269.9 167.7,1270.0 168.3,1269.9 168.9,1269.9 169.5,1269.9 170.1,1269.9 170.7,1269.9 171.3,1269.9 171.9,1269.9 172.5,1269.9 173.1,1269.9 173.7,1269.9 174.3,1269.9 174.9,1269.9 175.5,1269.9 176.1,1270.0 176.7,1269.9 177.3,1269.9 177.9,1270.0 178.5,1270.0 179.1,1270.0 179.7,1270.0 180.3,1270.0 180.9,1270.0 181.5,1269.9 182.1,1270.0 182.7,1270.0 183.3,1270.0 183.9,1269.9 184.5,1270.0 185.1,1270.0 185.7,1270.0 186.3,1270.0 186.9,1270.0 187.5,1270.0 188.1,1270.0 188.7,1270.0 189.3,1270.0 189.9,1270.0 190.5,1270.0 191.1,1270.0 191.7,1270.0 192.3,1270.0 192.9,1270.0 193.5,1270.0 194.1,1270.0 194.7,1270.0 195.3,1270.0 195.9,1270.0 196.5,1270.1 197.1,1270.1 197.7,1270.1 198.3,1270.0 198.9,1270.0 199.5,1270.1 200.1,1270.1 200.7,1270.1 201.3,1270.1 201.9,1270.1 202.5,1270.1 203.1,1270.1 203.7,1270.1 203.8,1270.1" fill="none" stroke="#222828" stroke-width="0.8"/>
<polyline points="99.3,1224.8 99.9,1219.8 100.5,1218.3 101.1,1221.0 101.7,1219.8 102.3,1207.9 102.9,1199.6 103.5,1193.1 104.1,1193.8 104.7,1193.5 105.3,1195.8 105.9,1192.3 106.5,1198.5 107.1,1195.9 107.7,1190.1 108.3,1186.2 108.9,1188.1 109.5,1187.9 110.1,1181.8 110.7,1184.7 111.3,1180.7 111.9,1183.2 112.5,1186.3 113.1,1187.5 113.7,1185.9 114.3,1194.7 114.9,1197.8 115.5,1199.8 116.1,1205.4 116.7,1211.2 117.3,1212.6 117.9,1217.9 118.5,1221.9 119.1,1229.1 119.7,1229.5 120.3,1238.9 120.9,1240.8 121.5,1246.3 122.1,1246.6 122.7,1250.4 123.3,1253.4 123.9,1256.9 124.5,1256.9 125.1,1260.6 125.7,1260.8 126.3,1263.4 126.9,1263.5 127.5,1265.2 128.1,1265.3 128.7,1267.1 129.3,1266.3 129.9,1267.0 130.5,1268.6 131.1,1268.1 131.7,1268.7 132.3,1268.2 132.9,1268.8 133.5,1267.8 134.1,1269.0 134.7,1268.8 135.3,1268.6 135.9,1268.8 136.5,1270.0 137.1,1269.7 137.7,1269.0 138.3,1270.1 138.9,1269.3 139.5,1269.5 140.1,1269.7 140.7,1269.2 141.3,1269.0 141.9,1269.3 142.5,1270.1 143.1,1270.0 143.7,1269.0 144.3,1270.1 144.9,1269.6 145.5,1269.8 146.1,1269.7 146.7,1269.8 147.3,1269.3 147.9,1269.3 148.5,1269.4 149.1,1269.5 149.7,1269.9 150.3,1269.2 150.9,1270.1 151.5,1269.5 152.1,1269.5 152.7,1270.0 153.3,1269.9 153.9,1269.6 154.5,1269.3 155.1,1269.3 155.7,1269.1 156.3,1270.1 156.9,1270.1 157.5,1270.1 158.1,1269.9 158.7,1269.9 159.3,1270.0 159.9,1270.1 160.5,1269.7 161.1,1269.9 161.7,1270.1 162.3,1269.2 162.9,1269.3 163.5,1269.4 164.1,1270.0 164.7,1270.1 165.3,1269.8 165.9,1269.9 166.5,1269.8 167.1,1269.8 167.7,1269.8 168.3,1269.8 168.9,1269.8 169.5,1269.9 170.1,1270.0 170.7,1269.7 171.3,1269.9 171.9,1269.8 172.5,1269.9 173.1,1269.9 173.7,1269.9 174.3,1269.9 174.9,1269.8 175.5,1269.7 176.1,1270.0 176.7,1270.0 177.3,1269.8 177.9,1270.0 178.5,1269.9 179.1,1269.7 179.7,1270.0 180.3,1269.8 180.9,1270.0 181.5,1269.9 182.1,1269.9 182.7,1269.8 183.3,1269.9 183.9,1270.0 184.5,1269.9 185.1,1269.8 185.7,1270.1 186.3,1270.1 186.9,1270.0 187.5,1269.9 188.1,1269.9 188.7,1269.9 189.3,1270.0 189.9,1270.1 190.5,1269.9 191.1,1270.0 191.7,1270.0 192.3,1270.0 192.9,1270.0 193.5,1270.1 194.1,1270.0 194.7,1270.1 195.3,1270.1 195.9,1270.0 196.5,1270.0 197.1,1270.0 197.7,1270.1 198.3,1270.0 198.9,1270.0 199.5,1270.1 200.1,1270.0 200.7,1270.0 201.3,1270.1 201.9,1270.1 202.5,1270.1 203.1,1270.1 203.7,1270.1 203.8,1270.1" fill="none" stroke="#151515" stroke-width="1.15" stroke-linejoin="round"/>
<line x1="99.1" y1="1169.2" x2="99.1" y2="1270.1" stroke="#8a9090" stroke-width="0.8"/>
<line x1="99.1" y1="1169.2" x2="99.1" y2="1270.1" stroke="#222" stroke-width="0.95"/>
<line x1="99.1" y1="1270.3" x2="203.8" y2="1270.3" stroke="#444" stroke-width="0.7"/>
<line x1="202.5" y1="1258.4" x2="202.5" y2="1270.1" stroke="#222" stroke-width="0.9"/>
<text transform="translate(97.4,1275.7) scale(0.8,1)" font-size="3.6" fill="#555" font-family="Liberation Sans, Arial, sans-serif">10<tspan dy="-1.5" font-size="2.2">0</tspan></text>
<text transform="translate(122.7,1275.7) scale(0.8,1)" font-size="3.6" fill="#555" font-family="Liberation Sans, Arial, sans-serif">10<tspan dy="-1.5" font-size="2.2">1</tspan></text>
<text transform="translate(149.9,1275.7) scale(0.8,1)" font-size="3.6" fill="#555" font-family="Liberation Sans, Arial, sans-serif">10<tspan dy="-1.5" font-size="2.2">2</tspan></text>
<text transform="translate(175.7,1275.7) scale(0.8,1)" font-size="3.6" fill="#555" font-family="Liberation Sans, Arial, sans-serif">10<tspan dy="-1.5" font-size="2.2">3</tspan></text>
<text transform="translate(200.8,1275.7) scale(0.8,1)" font-size="3.6" fill="#555" font-family="Liberation Sans, Arial, sans-serif">10<tspan dy="-1.5" font-size="2.2">4</tspan></text>
<polygon points="225.6,1270.1 225.6,1227.4 226.2,1220.8 226.8,1223.6 227.4,1216.4 228.0,1210.9 228.6,1210.1 229.2,1208.0 229.8,1200.9 230.4,1199.9 231.0,1199.6 231.6,1195.7 232.2,1197.7 232.8,1196.5 233.4,1194.3 234.0,1191.8 234.6,1191.8 235.2,1189.9 235.8,1191.4 236.4,1192.8 237.0,1191.9 237.6,1196.7 238.2,1202.2 238.8,1197.9 239.4,1201.9 240.0,1205.1 240.6,1207.0 241.2,1208.0 241.8,1210.6 242.4,1216.2 243.0,1218.6 243.6,1221.8 244.2,1223.0 244.8,1228.8 245.4,1233.3 246.0,1236.2 246.6,1241.5 247.2,1247.1 247.8,1246.0 248.4,1252.6 249.0,1253.8 249.6,1256.4 250.2,1260.0 250.8,1262.9 251.4,1263.6 252.0,1263.9 252.6,1264.8 253.2,1266.3 253.8,1267.1 254.4,1267.1 255.0,1267.3 255.6,1268.9 256.2,1268.4 256.8,1268.8 257.4,1268.7 258.0,1268.7 258.6,1269.0 259.2,1268.9 259.8,1269.2 260.4,1268.8 261.0,1268.7 261.6,1269.7 262.2,1269.2 262.8,1269.5 263.4,1269.6 264.0,1269.5 264.6,1269.4 265.2,1269.1 265.8,1269.1 266.4,1269.8 267.0,1269.7 267.6,1269.7 268.2,1269.2 268.8,1269.1 269.4,1269.4 270.0,1269.3 270.6,1269.6 271.2,1269.4 271.8,1270.0 272.4,1269.5 273.0,1269.5 273.6,1269.8 274.2,1269.7 274.8,1269.4 275.4,1269.8 276.0,1270.1 276.6,1269.4 277.2,1269.6 277.8,1269.4 278.4,1269.3 279.0,1269.8 279.6,1269.8 280.2,1269.9 280.8,1269.8 281.4,1269.3 282.0,1269.7 282.6,1269.6 283.2,1269.5 283.8,1269.5 284.4,1269.9 285.0,1269.7 285.6,1270.1 286.2,1269.8 286.8,1269.4 287.4,1269.9 288.0,1270.0 288.6,1269.8 289.2,1269.5 289.8,1270.1 290.4,1269.5 291.0,1269.8 291.6,1269.4 292.2,1269.5 292.8,1269.6 293.4,1269.9 294.0,1269.9 294.6,1269.8 295.2,1269.6 295.8,1269.8 296.4,1269.9 297.0,1269.6 297.6,1269.7 298.2,1269.8 298.8,1269.9 299.4,1269.8 300.0,1269.9 300.6,1269.7 301.2,1269.6 301.8,1269.9 302.4,1269.8 303.0,1269.9 303.6,1269.8 304.2,1269.9 304.8,1269.8 305.4,1270.0 306.0,1269.9 306.6,1270.0 307.2,1270.0 307.8,1270.0 308.4,1270.0 309.0,1269.8 309.6,1269.9 310.2,1270.1 310.8,1270.0 311.4,1270.0 312.0,1270.0 312.6,1269.9 313.2,1269.9 313.8,1269.9 314.4,1270.1 315.0,1270.0 315.6,1270.1 316.2,1270.0 316.8,1270.1 317.4,1270.0 318.0,1269.9 318.6,1270.1 319.2,1270.0 319.8,1270.1 320.4,1270.0 321.0,1270.0 321.6,1270.0 322.2,1270.0 322.8,1270.0 323.4,1270.0 324.0,1270.0 324.6,1270.0 325.2,1270.1 325.8,1270.1 326.4,1270.1 327.0,1270.1 327.6,1270.1 328.2,1270.1 328.8,1270.1 328.8,1270.1" fill="#c6cfcf" stroke="none"/>
<polyline points="225.6,1227.4 226.2,1220.8 226.8,1223.6 227.4,1216.4 228.0,1210.9 228.6,1210.1 229.2,1208.0 229.8,1200.9 230.4,1199.9 231.0,1199.6 231.6,1195.7 232.2,1197.7 232.8,1196.5 233.4,1194.3 234.0,1191.8 234.6,1191.8 235.2,1189.9 235.8,1191.4 236.4,1192.8 237.0,1191.9 237.6,1196.7 238.2,1202.2 238.8,1197.9 239.4,1201.9 240.0,1205.1 240.6,1207.0 241.2,1208.0 241.8,1210.6 242.4,1216.2 243.0,1218.6 243.6,1221.8 244.2,1223.0 244.8,1228.8 245.4,1233.3 246.0,1236.2 246.6,1241.5 247.2,1247.1 247.8,1246.0 248.4,1252.6 249.0,1253.8 249.6,1256.4 250.2,1260.0 250.8,1262.9 251.4,1263.6 252.0,1263.9 252.6,1264.8 253.2,1266.3 253.8,1267.1 254.4,1267.1 255.0,1267.3 255.6,1268.9 256.2,1268.4 256.8,1268.8 257.4,1268.7 258.0,1268.7 258.6,1269.0 259.2,1268.9 259.8,1269.2 260.4,1268.8 261.0,1268.7 261.6,1269.7 262.2,1269.2 262.8,1269.5 263.4,1269.6 264.0,1269.5 264.6,1269.4 265.2,1269.1 265.8,1269.1 266.4,1269.8 267.0,1269.7 267.6,1269.7 268.2,1269.2 268.8,1269.1 269.4,1269.4 270.0,1269.3 270.6,1269.6 271.2,1269.4 271.8,1270.0 272.4,1269.5 273.0,1269.5 273.6,1269.8 274.2,1269.7 274.8,1269.4 275.4,1269.8 276.0,1270.1 276.6,1269.4 277.2,1269.6 277.8,1269.4 278.4,1269.3 279.0,1269.8 279.6,1269.8 280.2,1269.9 280.8,1269.8 281.4,1269.3 282.0,1269.7 282.6,1269.6 283.2,1269.5 283.8,1269.5 284.4,1269.9 285.0,1269.7 285.6,1270.1 286.2,1269.8 286.8,1269.4 287.4,1269.9 288.0,1270.0 288.6,1269.8 289.2,1269.5 289.8,1270.1 290.4,1269.5 291.0,1269.8 291.6,1269.4 292.2,1269.5 292.8,1269.6 293.4,1269.9 294.0,1269.9 294.6,1269.8 295.2,1269.6 295.8,1269.8 296.4,1269.9 297.0,1269.6 297.6,1269.7 298.2,1269.8 298.8,1269.9 299.4,1269.8 300.0,1269.9 300.6,1269.7 301.2,1269.6 301.8,1269.9 302.4,1269.8 303.0,1269.9 303.6,1269.8 304.2,1269.9 304.8,1269.8 305.4,1270.0 306.0,1269.9 306.6,1270.0 307.2,1270.0 307.8,1270.0 308.4,1270.0 309.0,1269.8 309.6,1269.9 310.2,1270.1 310.8,1270.0 311.4,1270.0 312.0,1270.0 312.6,1269.9 313.2,1269.9 313.8,1269.9 314.4,1270.1 315.0,1270.0 315.6,1270.1 316.2,1270.0 316.8,1270.1 317.4,1270.0 318.0,1269.9 318.6,1270.1 319.2,1270.0 319.8,1270.1 320.4,1270.0 321.0,1270.0 321.6,1270.0 322.2,1270.0 322.8,1270.0 323.4,1270.0 324.0,1270.0 324.6,1270.0 325.2,1270.1 325.8,1270.1 326.4,1270.1 327.0,1270.1 327.6,1270.1 328.2,1270.1 328.8,1270.1" fill="none" stroke="#222828" stroke-width="0.8"/>
<polyline points="225.6,1230.0 226.2,1221.8 226.8,1219.0 227.4,1220.0 228.0,1219.6 228.6,1214.4 229.2,1201.6 229.8,1206.0 230.4,1200.9 231.0,1196.5 231.6,1198.0 232.2,1199.5 232.8,1192.3 233.4,1193.6 234.0,1189.8 234.6,1192.7 235.2,1186.0 235.8,1192.9 236.4,1193.0 237.0,1194.7 237.6,1186.6 238.2,1185.7 238.8,1180.8 239.4,1190.0 240.0,1203.7 240.6,1201.0 241.2,1214.1 241.8,1207.2 242.4,1212.4 243.0,1211.4 243.6,1222.3 244.2,1224.7 244.8,1234.0 245.4,1232.3 246.0,1235.4 246.6,1236.7 247.2,1244.4 247.8,1250.7 248.4,1254.0 249.0,1258.6 249.6,1260.1 250.2,1260.4 250.8,1263.2 251.4,1264.1 252.0,1263.2 252.6,1267.7 253.2,1267.0 253.8,1266.5 254.4,1268.0 255.0,1268.1 255.6,1268.8 256.2,1269.4 256.8,1265.7 257.4,1268.9 258.0,1269.8 258.6,1268.0 259.2,1267.4 259.8,1269.0 260.4,1269.0 261.0,1268.9 261.6,1267.7 262.2,1268.2 262.8,1268.7 263.4,1269.1 264.0,1270.1 264.6,1268.7 265.2,1267.9 265.8,1266.4 266.4,1269.2 267.0,1268.1 267.6,1268.1 268.2,1267.3 268.8,1268.8 269.4,1266.5 270.0,1268.2 270.6,1268.1 271.2,1268.2 271.8,1269.1 272.4,1267.8 273.0,1267.9 273.6,1268.6 274.2,1266.4 274.8,1267.6 275.4,1268.1 276.0,1269.0 276.6,1267.7 277.2,1269.2 277.8,1269.0 278.4,1267.9 279.0,1268.1 279.6,1268.4 280.2,1269.4 280.8,1269.5 281.4,1269.8 282.0,1269.9 282.6,1269.0 283.2,1270.0 283.8,1269.9 284.4,1269.7 285.0,1269.7 285.6,1268.6 286.2,1269.6 286.8,1268.8 287.4,1268.7 288.0,1269.2 288.6,1269.5 289.2,1269.4 289.8,1269.3 290.4,1268.9 291.0,1269.6 291.6,1269.1 292.2,1268.7 292.8,1269.6 293.4,1270.1 294.0,1269.3 294.6,1268.9 295.2,1270.1 295.8,1270.1 296.4,1269.4 297.0,1269.5 297.6,1269.7 298.2,1270.1 298.8,1269.7 299.4,1270.1 300.0,1269.9 300.6,1268.6 301.2,1269.0 301.8,1269.0 302.4,1269.9 303.0,1269.7 303.6,1270.1 304.2,1269.6 304.8,1269.9 305.4,1269.8 306.0,1269.8 306.6,1270.1 307.2,1269.9 307.8,1270.1 308.4,1270.1 309.0,1269.5 309.6,1270.1 310.2,1269.7 310.8,1269.8 311.4,1269.8 312.0,1269.8 312.6,1269.7 313.2,1270.1 313.8,1269.8 314.4,1270.0 315.0,1270.1 315.6,1270.0 316.2,1270.1 316.8,1270.1 317.4,1270.1 318.0,1270.1 318.6,1269.7 319.2,1270.1 319.8,1269.9 320.4,1269.7 321.0,1269.9 321.6,1269.8 322.2,1270.0 322.8,1269.8 323.4,1269.9 324.0,1270.0 324.6,1270.0 325.2,1269.9 325.8,1270.0 326.4,1270.0 327.0,1270.1 327.6,1270.1 328.2,1270.1 328.8,1270.1" fill="none" stroke="#151515" stroke-width="1.15" stroke-linejoin="round"/>
<line x1="225.3" y1="1166.6" x2="225.3" y2="1270.1" stroke="#8a9090" stroke-width="0.8"/>
<line x1="225.3" y1="1166.6" x2="225.3" y2="1270.1" stroke="#222" stroke-width="0.95"/>
<line x1="225.3" y1="1270.3" x2="331.4" y2="1270.3" stroke="#444" stroke-width="0.7"/>
<text transform="translate(223.9,1275.7) scale(0.8,1)" font-size="3.6" fill="#555" font-family="Liberation Sans, Arial, sans-serif">10<tspan dy="-1.5" font-size="2.2">0</tspan></text>
<text transform="translate(251.1,1275.7) scale(0.8,1)" font-size="3.6" fill="#555" font-family="Liberation Sans, Arial, sans-serif">10<tspan dy="-1.5" font-size="2.2">1</tspan></text>
<text transform="translate(277.5,1275.7) scale(0.8,1)" font-size="3.6" fill="#555" font-family="Liberation Sans, Arial, sans-serif">10<tspan dy="-1.5" font-size="2.2">2</tspan></text>
<text transform="translate(304.6,1275.7) scale(0.8,1)" font-size="3.6" fill="#555" font-family="Liberation Sans, Arial, sans-serif">10<tspan dy="-1.5" font-size="2.2">3</tspan></text>
<text transform="translate(330.5,1275.7) scale(0.8,1)" font-size="3.6" fill="#555" font-family="Liberation Sans, Arial, sans-serif">10<tspan dy="-1.5" font-size="2.2">4</tspan></text>
<polygon points="351.5,1271.4 351.5,1245.5 352.1,1243.4 352.7,1236.6 353.3,1234.8 353.9,1232.3 354.5,1227.1 355.1,1222.5 355.7,1218.5 356.3,1216.3 356.9,1214.8 357.5,1208.8 358.1,1206.7 358.7,1206.1 359.3,1203.0 359.9,1198.2 360.5,1201.6 361.1,1199.1 361.7,1197.4 362.3,1198.3 362.9,1195.3 363.5,1192.3 364.1,1187.0 364.7,1186.2 365.3,1188.4 365.9,1186.6 366.5,1186.4 367.1,1184.4 367.7,1183.6 368.3,1183.5 368.9,1185.6 369.5,1191.8 370.1,1194.6 370.7,1203.7 371.3,1205.6 371.9,1210.8 372.5,1219.8 373.1,1222.4 373.7,1233.2 374.3,1234.4 374.9,1241.0 375.5,1245.9 376.1,1250.4 376.7,1253.6 377.3,1257.1 377.9,1262.9 378.5,1265.2 379.1,1267.4 379.7,1266.7 380.3,1269.1 380.9,1269.0 381.5,1269.5 382.1,1269.2 382.7,1269.8 383.3,1270.1 383.9,1270.1 384.5,1270.6 385.1,1270.2 385.7,1270.8 386.3,1270.1 386.9,1270.9 387.5,1269.5 388.1,1270.4 388.7,1270.2 389.3,1270.4 389.9,1270.7 390.5,1270.6 391.1,1270.5 391.7,1270.9 392.3,1270.0 392.9,1270.2 393.5,1270.9 394.1,1270.6 394.7,1269.9 395.3,1270.6 395.9,1270.2 396.5,1270.9 397.1,1270.8 397.7,1270.4 398.3,1270.9 398.9,1270.3 399.5,1270.8 400.1,1270.7 400.7,1270.5 401.3,1270.2 401.9,1270.5 402.5,1270.0 403.1,1270.4 403.7,1270.1 404.3,1270.9 404.9,1270.4 405.5,1270.0 406.1,1270.8 406.7,1270.7 407.3,1270.5 407.9,1271.2 408.5,1270.9 409.1,1270.7 409.7,1270.5 410.3,1269.9 410.9,1270.8 411.5,1271.0 412.1,1270.6 412.7,1270.4 413.3,1270.7 413.9,1270.3 414.5,1270.8 415.1,1271.0 415.7,1271.1 416.3,1270.9 416.9,1270.8 417.5,1271.0 418.1,1271.1 418.7,1270.7 419.3,1270.5 419.9,1270.7 420.5,1270.6 421.1,1270.6 421.7,1270.8 422.3,1271.0 422.9,1270.9 423.5,1270.9 424.1,1270.8 424.7,1271.0 425.3,1271.1 425.9,1271.1 426.5,1271.3 427.1,1270.9 427.7,1270.9 428.3,1271.3 428.9,1271.0 429.5,1271.1 430.1,1270.9 430.7,1271.2 431.3,1270.9 431.9,1270.8 432.5,1271.0 433.1,1270.9 433.7,1271.2 434.3,1271.0 434.9,1271.1 435.5,1271.0 436.1,1271.1 436.7,1271.0 437.3,1271.2 437.9,1270.9 438.5,1271.1 439.1,1271.0 439.7,1271.2 440.3,1271.1 440.9,1271.2 441.5,1271.1 442.1,1271.1 442.7,1271.0 443.3,1271.1 443.9,1271.1 444.5,1271.2 445.1,1271.2 445.7,1271.3 446.3,1271.2 446.9,1271.2 447.5,1271.1 448.1,1271.2 448.7,1271.3 449.3,1271.4 449.9,1271.3 450.5,1271.4 451.1,1271.4 451.7,1271.2 452.3,1271.4 452.9,1271.4 453.5,1271.4 454.1,1271.3 454.7,1271.4 455.3,1271.3 455.9,1271.3 456.5,1271.4 457.1,1271.4 457.7,1271.4 457.8,1271.4 457.8,1271.4" fill="#c6cfcf" stroke="none"/>
<polyline points="351.5,1245.5 352.1,1243.4 352.7,1236.6 353.3,1234.8 353.9,1232.3 354.5,1227.1 355.1,1222.5 355.7,1218.5 356.3,1216.3 356.9,1214.8 357.5,1208.8 358.1,1206.7 358.7,1206.1 359.3,1203.0 359.9,1198.2 360.5,1201.6 361.1,1199.1 361.7,1197.4 362.3,1198.3 362.9,1195.3 363.5,1192.3 364.1,1187.0 364.7,1186.2 365.3,1188.4 365.9,1186.6 366.5,1186.4 367.1,1184.4 367.7,1183.6 368.3,1183.5 368.9,1185.6 369.5,1191.8 370.1,1194.6 370.7,1203.7 371.3,1205.6 371.9,1210.8 372.5,1219.8 373.1,1222.4 373.7,1233.2 374.3,1234.4 374.9,1241.0 375.5,1245.9 376.1,1250.4 376.7,1253.6 377.3,1257.1 377.9,1262.9 378.5,1265.2 379.1,1267.4 379.7,1266.7 380.3,1269.1 380.9,1269.0 381.5,1269.5 382.1,1269.2 382.7,1269.8 383.3,1270.1 383.9,1270.1 384.5,1270.6 385.1,1270.2 385.7,1270.8 386.3,1270.1 386.9,1270.9 387.5,1269.5 388.1,1270.4 388.7,1270.2 389.3,1270.4 389.9,1270.7 390.5,1270.6 391.1,1270.5 391.7,1270.9 392.3,1270.0 392.9,1270.2 393.5,1270.9 394.1,1270.6 394.7,1269.9 395.3,1270.6 395.9,1270.2 396.5,1270.9 397.1,1270.8 397.7,1270.4 398.3,1270.9 398.9,1270.3 399.5,1270.8 400.1,1270.7 400.7,1270.5 401.3,1270.2 401.9,1270.5 402.5,1270.0 403.1,1270.4 403.7,1270.1 404.3,1270.9 404.9,1270.4 405.5,1270.0 406.1,1270.8 406.7,1270.7 407.3,1270.5 407.9,1271.2 408.5,1270.9 409.1,1270.7 409.7,1270.5 410.3,1269.9 410.9,1270.8 411.5,1271.0 412.1,1270.6 412.7,1270.4 413.3,1270.7 413.9,1270.3 414.5,1270.8 415.1,1271.0 415.7,1271.1 416.3,1270.9 416.9,1270.8 417.5,1271.0 418.1,1271.1 418.7,1270.7 419.3,1270.5 419.9,1270.7 420.5,1270.6 421.1,1270.6 421.7,1270.8 422.3,1271.0 422.9,1270.9 423.5,1270.9 424.1,1270.8 424.7,1271.0 425.3,1271.1 425.9,1271.1 426.5,1271.3 427.1,1270.9 427.7,1270.9 428.3,1271.3 428.9,1271.0 429.5,1271.1 430.1,1270.9 430.7,1271.2 431.3,1270.9 431.9,1270.8 432.5,1271.0 433.1,1270.9 433.7,1271.2 434.3,1271.0 434.9,1271.1 435.5,1271.0 436.1,1271.1 436.7,1271.0 437.3,1271.2 437.9,1270.9 438.5,1271.1 439.1,1271.0 439.7,1271.2 440.3,1271.1 440.9,1271.2 441.5,1271.1 442.1,1271.1 442.7,1271.0 443.3,1271.1 443.9,1271.1 444.5,1271.2 445.1,1271.2 445.7,1271.3 446.3,1271.2 446.9,1271.2 447.5,1271.1 448.1,1271.2 448.7,1271.3 449.3,1271.4 449.9,1271.3 450.5,1271.4 451.1,1271.4 451.7,1271.2 452.3,1271.4 452.9,1271.4 453.5,1271.4 454.1,1271.3 454.7,1271.4 455.3,1271.3 455.9,1271.3 456.5,1271.4 457.1,1271.4 457.7,1271.4 457.8,1271.4" fill="none" stroke="#8a9494" stroke-width="0.8"/>
<polyline points="351.5,1242.9 352.1,1239.6 352.7,1231.1 353.3,1225.2 353.9,1226.0 354.5,1230.2 355.1,1224.2 355.7,1219.6 356.3,1208.9 356.9,1203.7 357.5,1205.3 358.1,1201.1 358.7,1196.8 359.3,1193.0 359.9,1200.6 360.5,1203.8 361.1,1201.2 361.7,1201.3 362.3,1192.1 362.9,1197.4 363.5,1195.1 364.1,1192.1 364.7,1185.9 365.3,1178.3 365.9,1172.9 366.5,1183.0 367.1,1184.6 367.7,1189.0 368.3,1192.0 368.9,1206.0 369.5,1215.9 370.1,1218.3 370.7,1229.1 371.3,1234.6 371.9,1238.4 372.5,1240.0 373.1,1251.2 373.7,1246.6 374.3,1255.1 374.9,1257.1 375.5,1262.7 376.1,1263.2 376.7,1265.5 377.3,1267.1 377.9,1267.8 378.5,1267.6 379.1,1269.5 379.7,1269.4 380.3,1270.1 380.9,1269.0 381.5,1269.6 382.1,1269.5 382.7,1269.4 383.3,1270.1 383.9,1269.9 384.5,1270.6 385.1,1268.7 385.7,1269.1 386.3,1269.6 386.9,1268.0 387.5,1267.8 388.1,1267.6 388.7,1266.3 389.3,1265.6 389.9,1268.5 390.5,1267.9 391.1,1268.1 391.7,1267.5 392.3,1269.1 392.9,1270.2 393.5,1268.3 394.1,1268.8 394.7,1270.7 395.3,1271.1 395.9,1271.3 396.5,1269.8 397.1,1270.7 397.7,1269.8 398.3,1270.8 398.9,1270.3 399.5,1270.7 400.1,1271.4 400.7,1271.0 401.3,1270.7 401.9,1270.9 402.5,1271.1 403.1,1270.8 403.7,1271.2 404.3,1271.3 404.9,1271.4 405.5,1270.7 406.1,1270.9 406.7,1270.9 407.3,1271.3 407.9,1271.4 408.5,1271.2 409.1,1271.2 409.7,1271.4 410.3,1270.7 410.9,1271.1 411.5,1270.5 412.1,1271.2 412.7,1271.1 413.3,1271.1 413.9,1271.2 414.5,1271.1 415.1,1271.4 415.7,1271.2 416.3,1271.3 416.9,1271.4 417.5,1271.1 418.1,1271.4 418.7,1271.0 419.3,1271.4 419.9,1271.4 420.5,1271.2 421.1,1271.4 421.7,1271.4 422.3,1271.4 422.9,1271.2 423.5,1271.2 424.1,1271.4 424.7,1271.0 425.3,1271.1 425.9,1271.3 426.5,1271.3 427.1,1271.4 427.7,1271.4 428.3,1271.3 428.9,1271.3 429.5,1271.0 430.1,1271.2 430.7,1271.3 431.3,1271.2 431.9,1271.3 432.5,1271.3 433.1,1271.1 433.7,1271.2 434.3,1271.0 434.9,1271.4 435.5,1271.1 436.1,1271.0 436.7,1271.4 437.3,1271.3 437.9,1271.4 438.5,1271.2 439.1,1271.4 439.7,1271.4 440.3,1271.3 440.9,1271.3 441.5,1271.3 442.1,1271.4 442.7,1271.4 443.3,1271.3 443.9,1271.2 444.5,1271.4 445.1,1271.4 445.7,1271.2 446.3,1271.3 446.9,1271.2 447.5,1271.4 448.1,1271.4 448.7,1271.3 449.3,1271.2 449.9,1271.4 450.5,1271.2 451.1,1271.4 451.7,1271.3 452.3,1271.4 452.9,1271.4 453.5,1271.3 454.1,1271.3 454.7,1271.4 455.3,1271.3 455.9,1271.4 456.5,1271.4 457.1,1271.3 457.7,1271.4 457.8,1271.4" fill="none" stroke="#151515" stroke-width="1.15" stroke-linejoin="round"/>
<line x1="351.2" y1="1167.9" x2="351.2" y2="1271.4" stroke="#8a9090" stroke-width="0.8"/>
<line x1="351.2" y1="1167.9" x2="351.2" y2="1271.4" stroke="#222" stroke-width="0.95"/>
<line x1="351.2" y1="1271.6" x2="459.1" y2="1271.6" stroke="#444" stroke-width="0.7"/>
<text transform="translate(350.9,1275.7) scale(0.8,1)" font-size="3.6" fill="#555" font-family="Liberation Sans, Arial, sans-serif">10<tspan dy="-1.5" font-size="2.2">0</tspan></text>
<text transform="translate(378.0,1275.7) scale(0.8,1)" font-size="3.6" fill="#555" font-family="Liberation Sans, Arial, sans-serif">10<tspan dy="-1.5" font-size="2.2">1</tspan></text>
<text transform="translate(405.2,1275.7) scale(0.8,1)" font-size="3.6" fill="#555" font-family="Liberation Sans, Arial, sans-serif">10<tspan dy="-1.5" font-size="2.2">2</tspan></text>
<text transform="translate(432.3,1275.7) scale(0.8,1)" font-size="3.6" fill="#555" font-family="Liberation Sans, Arial, sans-serif">10<tspan dy="-1.5" font-size="2.2">3</tspan></text>
<text transform="translate(456.9,1275.7) scale(0.8,1)" font-size="3.6" fill="#555" font-family="Liberation Sans, Arial, sans-serif">10<tspan dy="-1.5" font-size="2.2">4</tspan></text>
<g font-family="Liberation Sans, Arial, sans-serif">
<text x="135.0" y="869.5" font-size="15.5" font-weight="bold" stroke="#000" stroke-width="0.3" textLength="31.5" lengthAdjust="spacingAndGlyphs">SC5</text>
<text x="245.7" y="838.5" font-size="15.5" font-weight="bold" stroke="#000" stroke-width="0.3" textLength="71.0" lengthAdjust="spacingAndGlyphs">Vimentin</text>
<text x="239.5" y="868.0" font-size="15.5" font-weight="bold" stroke="#000" stroke-width="0.3" textLength="82.8" lengthAdjust="spacingAndGlyphs">(clone V9)</text>
<text x="370.4" y="838.5" font-size="15.5" font-weight="bold" stroke="#000" stroke-width="0.3" textLength="71.0" lengthAdjust="spacingAndGlyphs">Vimentin</text>
<text x="381.8" y="868.0" font-size="15.5" font-weight="bold" stroke="#000" stroke-width="0.3" textLength="49.2" lengthAdjust="spacingAndGlyphs">(C-20)</text>
<text x="38.0" y="972.0" font-size="15.5" font-weight="bold" stroke="#000" stroke-width="0.3" textLength="44.0" lengthAdjust="spacingAndGlyphs">PBMC</text>
<text x="0.8" y="1098.0" font-size="15.5" font-weight="bold" stroke="#000" stroke-width="0.3" textLength="81.2" lengthAdjust="spacingAndGlyphs">PHA-Blasts</text>
<text x="34.0" y="1235.5" font-size="15.5" font-weight="bold" stroke="#000" stroke-width="0.3" textLength="48.0" lengthAdjust="spacingAndGlyphs">Sézary</text>
</g>
</svg>
</body></html>
